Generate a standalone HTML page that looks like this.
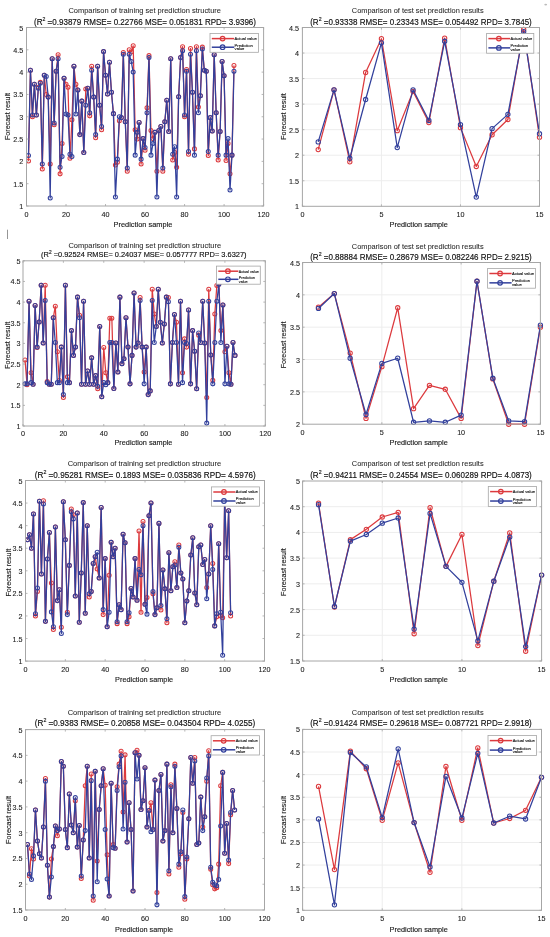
<!DOCTYPE html>
<html><head><meta charset="utf-8"><style>
html,body{margin:0;padding:0;background:#fff;}
body{width:550px;height:937px;overflow:hidden;}
svg{display:block;filter:blur(0.35px);}
svg text{font-family:"Liberation Sans",sans-serif;}
</style></head><body>
<svg width="550" height="937" viewBox="0 0 550 937">
<rect width="550" height="937" fill="#fff"/>
<g><path d="M28.48 160.93 L30.45 70.34 L32.43 116.75 L34.4 84.17 L36.38 114.97 L38.36 87.3 L40.33 82.39 L42.31 168.96 L44.28 75.25 L46.26 94.44 L48.23 97.12 L50.21 164.05 L52.19 58.74 L54.16 124.78 L56.14 71.23 L58.11 54.72 L60.09 173.87 L62.07 143.53 L64.04 78.37 L66.02 84.17 L67.99 87.3 L69.97 158.25 L71.94 119.87 L73.92 66.32 L75.9 84.17 L77.87 89.97 L79.85 134.6 L81.82 101.13 L83.8 152.45 L85.78 89.08 L87.75 88.19 L89.73 115.86 L91.7 66.32 L93.68 97.12 L95.65 137.72 L97.63 66.32 L99.61 105.15 L101.58 129.69 L103.56 51.6 L105.53 75.25 L107.51 93.99 L109.48 62.31 L111.46 92.21 L113.44 113.63 L115.41 164.94 L117.39 162.27 L119.36 120.77 L121.34 117.64 L123.32 52.49 L125.29 121.66 L127.27 171.19 L129.24 49.81 L131.22 52.04 L133.19 45.8 L135.17 129.69 L137.15 139.06 L139.12 122.55 L141.1 164.05 L143.07 138.62 L145.05 150.22 L147.03 107.82 L149 55.61 L150.98 130.58 L152.95 138.62 L154.93 132.37 L156.91 171.19 L158.88 130.58 L160.86 126.57 L162.83 171.19 L164.81 121.66 L166.78 100.24 L168.76 131.48 L170.74 58.74 L172.71 160.04 L174.69 152.45 L176.66 167.18 L178.64 96.67 L180.62 57.4 L182.59 46.69 L184.57 116.75 L186.54 69.45 L188.52 154.23 L190.49 48.47 L192.47 92.21 L194.45 148.88 L196.42 46.69 L198.4 106.93 L200.37 95.78 L202.35 47.14 L204.33 70.34 L206.3 71.23 L208.28 155.57 L210.25 117.64 L212.23 131.03 L214.2 54.72 L216.18 112.73 L218.16 160.04 L220.13 131.48 L222.11 61.41 L224.08 75.69 L226.06 160.48 L228.04 143.53 L230.01 173.87 L231.99 155.13 L233.96 65.43" fill="none" stroke="#dc3a3e" stroke-width="1.25" stroke-linejoin="round"/>
<g fill="none" stroke="#dc3a3e" stroke-width="1.05"><circle cx="28.48" cy="160.93" r="2.0"/><circle cx="30.45" cy="70.34" r="2.0"/><circle cx="32.43" cy="116.75" r="2.0"/><circle cx="34.4" cy="84.17" r="2.0"/><circle cx="36.38" cy="114.97" r="2.0"/><circle cx="38.36" cy="87.3" r="2.0"/><circle cx="40.33" cy="82.39" r="2.0"/><circle cx="42.31" cy="168.96" r="2.0"/><circle cx="44.28" cy="75.25" r="2.0"/><circle cx="46.26" cy="94.44" r="2.0"/><circle cx="48.23" cy="97.12" r="2.0"/><circle cx="50.21" cy="164.05" r="2.0"/><circle cx="52.19" cy="58.74" r="2.0"/><circle cx="54.16" cy="124.78" r="2.0"/><circle cx="56.14" cy="71.23" r="2.0"/><circle cx="58.11" cy="54.72" r="2.0"/><circle cx="60.09" cy="173.87" r="2.0"/><circle cx="62.07" cy="143.53" r="2.0"/><circle cx="64.04" cy="78.37" r="2.0"/><circle cx="66.02" cy="84.17" r="2.0"/><circle cx="67.99" cy="87.3" r="2.0"/><circle cx="69.97" cy="158.25" r="2.0"/><circle cx="71.94" cy="119.87" r="2.0"/><circle cx="73.92" cy="66.32" r="2.0"/><circle cx="75.9" cy="84.17" r="2.0"/><circle cx="77.87" cy="89.97" r="2.0"/><circle cx="79.85" cy="134.6" r="2.0"/><circle cx="81.82" cy="101.13" r="2.0"/><circle cx="83.8" cy="152.45" r="2.0"/><circle cx="85.78" cy="89.08" r="2.0"/><circle cx="87.75" cy="88.19" r="2.0"/><circle cx="89.73" cy="115.86" r="2.0"/><circle cx="91.7" cy="66.32" r="2.0"/><circle cx="93.68" cy="97.12" r="2.0"/><circle cx="95.65" cy="137.72" r="2.0"/><circle cx="97.63" cy="66.32" r="2.0"/><circle cx="99.61" cy="105.15" r="2.0"/><circle cx="101.58" cy="129.69" r="2.0"/><circle cx="103.56" cy="51.6" r="2.0"/><circle cx="105.53" cy="75.25" r="2.0"/><circle cx="107.51" cy="93.99" r="2.0"/><circle cx="109.48" cy="62.31" r="2.0"/><circle cx="111.46" cy="92.21" r="2.0"/><circle cx="113.44" cy="113.63" r="2.0"/><circle cx="115.41" cy="164.94" r="2.0"/><circle cx="117.39" cy="162.27" r="2.0"/><circle cx="119.36" cy="120.77" r="2.0"/><circle cx="121.34" cy="117.64" r="2.0"/><circle cx="123.32" cy="52.49" r="2.0"/><circle cx="125.29" cy="121.66" r="2.0"/><circle cx="127.27" cy="171.19" r="2.0"/><circle cx="129.24" cy="49.81" r="2.0"/><circle cx="131.22" cy="52.04" r="2.0"/><circle cx="133.19" cy="45.8" r="2.0"/><circle cx="135.17" cy="129.69" r="2.0"/><circle cx="137.15" cy="139.06" r="2.0"/><circle cx="139.12" cy="122.55" r="2.0"/><circle cx="141.1" cy="164.05" r="2.0"/><circle cx="143.07" cy="138.62" r="2.0"/><circle cx="145.05" cy="150.22" r="2.0"/><circle cx="147.03" cy="107.82" r="2.0"/><circle cx="149" cy="55.61" r="2.0"/><circle cx="150.98" cy="130.58" r="2.0"/><circle cx="152.95" cy="138.62" r="2.0"/><circle cx="154.93" cy="132.37" r="2.0"/><circle cx="156.91" cy="171.19" r="2.0"/><circle cx="158.88" cy="130.58" r="2.0"/><circle cx="160.86" cy="126.57" r="2.0"/><circle cx="162.83" cy="171.19" r="2.0"/><circle cx="164.81" cy="121.66" r="2.0"/><circle cx="166.78" cy="100.24" r="2.0"/><circle cx="168.76" cy="131.48" r="2.0"/><circle cx="170.74" cy="58.74" r="2.0"/><circle cx="172.71" cy="160.04" r="2.0"/><circle cx="174.69" cy="152.45" r="2.0"/><circle cx="176.66" cy="167.18" r="2.0"/><circle cx="178.64" cy="96.67" r="2.0"/><circle cx="180.62" cy="57.4" r="2.0"/><circle cx="182.59" cy="46.69" r="2.0"/><circle cx="184.57" cy="116.75" r="2.0"/><circle cx="186.54" cy="69.45" r="2.0"/><circle cx="188.52" cy="154.23" r="2.0"/><circle cx="190.49" cy="48.47" r="2.0"/><circle cx="192.47" cy="92.21" r="2.0"/><circle cx="194.45" cy="148.88" r="2.0"/><circle cx="196.42" cy="46.69" r="2.0"/><circle cx="198.4" cy="106.93" r="2.0"/><circle cx="200.37" cy="95.78" r="2.0"/><circle cx="202.35" cy="47.14" r="2.0"/><circle cx="204.33" cy="70.34" r="2.0"/><circle cx="206.3" cy="71.23" r="2.0"/><circle cx="208.28" cy="155.57" r="2.0"/><circle cx="210.25" cy="117.64" r="2.0"/><circle cx="212.23" cy="131.03" r="2.0"/><circle cx="214.2" cy="54.72" r="2.0"/><circle cx="216.18" cy="112.73" r="2.0"/><circle cx="218.16" cy="160.04" r="2.0"/><circle cx="220.13" cy="131.48" r="2.0"/><circle cx="222.11" cy="61.41" r="2.0"/><circle cx="224.08" cy="75.69" r="2.0"/><circle cx="226.06" cy="160.48" r="2.0"/><circle cx="228.04" cy="143.53" r="2.0"/><circle cx="230.01" cy="173.87" r="2.0"/><circle cx="231.99" cy="155.13" r="2.0"/><circle cx="233.96" cy="65.43" r="2.0"/></g>
<path d="M28.48 155.57 L30.45 70.34 L32.43 114.97 L34.4 84.17 L36.38 114.97 L38.36 88.19 L40.33 83.28 L42.31 164.05 L44.28 75.25 L46.26 76.59 L48.23 97.12 L50.21 197.97 L52.19 58.74 L54.16 123 L56.14 71.23 L58.11 58.74 L60.09 167.18 L62.07 156.47 L64.04 78.37 L66.02 114.07 L67.99 114.97 L69.97 154.23 L71.94 156.47 L73.92 66.32 L75.9 114.07 L77.87 89.97 L79.85 134.6 L81.82 101.13 L83.8 152.45 L85.78 105.15 L87.75 88.19 L89.73 112.73 L91.7 70.34 L93.68 97.12 L95.65 134.6 L97.63 66.32 L99.61 105.15 L101.58 126.57 L103.56 51.6 L105.53 75.25 L107.51 93.99 L109.48 62.31 L111.46 92.21 L113.44 113.63 L115.41 197.07 L117.39 159.14 L119.36 116.75 L121.34 117.64 L123.32 54.27 L125.29 121.66 L127.27 168.07 L129.24 54.27 L131.22 61.41 L133.19 72.12 L135.17 155.13 L137.15 132.37 L139.12 122.55 L141.1 159.14 L143.07 138.62 L145.05 147.54 L147.03 112.73 L149 57.4 L150.98 155.13 L152.95 143.53 L154.93 132.37 L156.91 197.07 L158.88 130.58 L160.86 126.57 L162.83 168.07 L164.81 121.66 L166.78 100.24 L168.76 131.48 L170.74 58.74 L172.71 154.23 L174.69 146.65 L176.66 197.07 L178.64 96.67 L180.62 57.4 L182.59 50.7 L184.57 114.97 L186.54 71.23 L188.52 151.56 L190.49 54.27 L192.47 92.21 L194.45 155.13 L196.42 50.7 L198.4 112.73 L200.37 95.78 L202.35 48.92 L204.33 70.34 L206.3 71.23 L208.28 151.56 L210.25 117.64 L212.23 131.03 L214.2 54.72 L216.18 112.73 L218.16 155.13 L220.13 131.48 L222.11 61.41 L224.08 75.69 L226.06 155.13 L228.04 138.62 L230.01 189.94 L231.99 155.13 L233.96 71.23" fill="none" stroke="#32409c" stroke-width="1.25" stroke-linejoin="round"/>
<g fill="none" stroke="#32409c" stroke-width="1.05"><circle cx="28.48" cy="155.57" r="2.0"/><circle cx="30.45" cy="70.34" r="2.0"/><circle cx="32.43" cy="114.97" r="2.0"/><circle cx="34.4" cy="84.17" r="2.0"/><circle cx="36.38" cy="114.97" r="2.0"/><circle cx="38.36" cy="88.19" r="2.0"/><circle cx="40.33" cy="83.28" r="2.0"/><circle cx="42.31" cy="164.05" r="2.0"/><circle cx="44.28" cy="75.25" r="2.0"/><circle cx="46.26" cy="76.59" r="2.0"/><circle cx="48.23" cy="97.12" r="2.0"/><circle cx="50.21" cy="197.97" r="2.0"/><circle cx="52.19" cy="58.74" r="2.0"/><circle cx="54.16" cy="123" r="2.0"/><circle cx="56.14" cy="71.23" r="2.0"/><circle cx="58.11" cy="58.74" r="2.0"/><circle cx="60.09" cy="167.18" r="2.0"/><circle cx="62.07" cy="156.47" r="2.0"/><circle cx="64.04" cy="78.37" r="2.0"/><circle cx="66.02" cy="114.07" r="2.0"/><circle cx="67.99" cy="114.97" r="2.0"/><circle cx="69.97" cy="154.23" r="2.0"/><circle cx="71.94" cy="156.47" r="2.0"/><circle cx="73.92" cy="66.32" r="2.0"/><circle cx="75.9" cy="114.07" r="2.0"/><circle cx="77.87" cy="89.97" r="2.0"/><circle cx="79.85" cy="134.6" r="2.0"/><circle cx="81.82" cy="101.13" r="2.0"/><circle cx="83.8" cy="152.45" r="2.0"/><circle cx="85.78" cy="105.15" r="2.0"/><circle cx="87.75" cy="88.19" r="2.0"/><circle cx="89.73" cy="112.73" r="2.0"/><circle cx="91.7" cy="70.34" r="2.0"/><circle cx="93.68" cy="97.12" r="2.0"/><circle cx="95.65" cy="134.6" r="2.0"/><circle cx="97.63" cy="66.32" r="2.0"/><circle cx="99.61" cy="105.15" r="2.0"/><circle cx="101.58" cy="126.57" r="2.0"/><circle cx="103.56" cy="51.6" r="2.0"/><circle cx="105.53" cy="75.25" r="2.0"/><circle cx="107.51" cy="93.99" r="2.0"/><circle cx="109.48" cy="62.31" r="2.0"/><circle cx="111.46" cy="92.21" r="2.0"/><circle cx="113.44" cy="113.63" r="2.0"/><circle cx="115.41" cy="197.07" r="2.0"/><circle cx="117.39" cy="159.14" r="2.0"/><circle cx="119.36" cy="116.75" r="2.0"/><circle cx="121.34" cy="117.64" r="2.0"/><circle cx="123.32" cy="54.27" r="2.0"/><circle cx="125.29" cy="121.66" r="2.0"/><circle cx="127.27" cy="168.07" r="2.0"/><circle cx="129.24" cy="54.27" r="2.0"/><circle cx="131.22" cy="61.41" r="2.0"/><circle cx="133.19" cy="72.12" r="2.0"/><circle cx="135.17" cy="155.13" r="2.0"/><circle cx="137.15" cy="132.37" r="2.0"/><circle cx="139.12" cy="122.55" r="2.0"/><circle cx="141.1" cy="159.14" r="2.0"/><circle cx="143.07" cy="138.62" r="2.0"/><circle cx="145.05" cy="147.54" r="2.0"/><circle cx="147.03" cy="112.73" r="2.0"/><circle cx="149" cy="57.4" r="2.0"/><circle cx="150.98" cy="155.13" r="2.0"/><circle cx="152.95" cy="143.53" r="2.0"/><circle cx="154.93" cy="132.37" r="2.0"/><circle cx="156.91" cy="197.07" r="2.0"/><circle cx="158.88" cy="130.58" r="2.0"/><circle cx="160.86" cy="126.57" r="2.0"/><circle cx="162.83" cy="168.07" r="2.0"/><circle cx="164.81" cy="121.66" r="2.0"/><circle cx="166.78" cy="100.24" r="2.0"/><circle cx="168.76" cy="131.48" r="2.0"/><circle cx="170.74" cy="58.74" r="2.0"/><circle cx="172.71" cy="154.23" r="2.0"/><circle cx="174.69" cy="146.65" r="2.0"/><circle cx="176.66" cy="197.07" r="2.0"/><circle cx="178.64" cy="96.67" r="2.0"/><circle cx="180.62" cy="57.4" r="2.0"/><circle cx="182.59" cy="50.7" r="2.0"/><circle cx="184.57" cy="114.97" r="2.0"/><circle cx="186.54" cy="71.23" r="2.0"/><circle cx="188.52" cy="151.56" r="2.0"/><circle cx="190.49" cy="54.27" r="2.0"/><circle cx="192.47" cy="92.21" r="2.0"/><circle cx="194.45" cy="155.13" r="2.0"/><circle cx="196.42" cy="50.7" r="2.0"/><circle cx="198.4" cy="112.73" r="2.0"/><circle cx="200.37" cy="95.78" r="2.0"/><circle cx="202.35" cy="48.92" r="2.0"/><circle cx="204.33" cy="70.34" r="2.0"/><circle cx="206.3" cy="71.23" r="2.0"/><circle cx="208.28" cy="151.56" r="2.0"/><circle cx="210.25" cy="117.64" r="2.0"/><circle cx="212.23" cy="131.03" r="2.0"/><circle cx="214.2" cy="54.72" r="2.0"/><circle cx="216.18" cy="112.73" r="2.0"/><circle cx="218.16" cy="155.13" r="2.0"/><circle cx="220.13" cy="131.48" r="2.0"/><circle cx="222.11" cy="61.41" r="2.0"/><circle cx="224.08" cy="75.69" r="2.0"/><circle cx="226.06" cy="155.13" r="2.0"/><circle cx="228.04" cy="138.62" r="2.0"/><circle cx="230.01" cy="189.94" r="2.0"/><circle cx="231.99" cy="155.13" r="2.0"/><circle cx="233.96" cy="71.23" r="2.0"/></g>
<rect x="26.5" y="27.5" width="237.1" height="178.5" fill="none" stroke="#a6a6a6" stroke-width="1"/>
<path d="M26.5 206v-2M26.5 27.5v2M66.02 206v-2M66.02 27.5v2M105.53 206v-2M105.53 27.5v2M145.05 206v-2M145.05 27.5v2M184.57 206v-2M184.57 27.5v2M224.08 206v-2M224.08 27.5v2M263.6 206v-2M263.6 27.5v2M26.5 206h2M263.6 206h-2M26.5 183.69h2M263.6 183.69h-2M26.5 161.38h2M263.6 161.38h-2M26.5 139.06h2M263.6 139.06h-2M26.5 116.75h2M263.6 116.75h-2M26.5 94.44h2M263.6 94.44h-2M26.5 72.12h2M263.6 72.12h-2M26.5 49.81h2M263.6 49.81h-2M26.5 27.5h2M263.6 27.5h-2" stroke="#a6a6a6" stroke-width="0.8" fill="none"/>
<text x="26.5" y="216.9" text-anchor="middle" font-size="7.2" fill="#1c1c1c" stroke="#1c1c1c" stroke-width="0.1">0</text>
<text x="66.02" y="216.9" text-anchor="middle" font-size="7.2" fill="#1c1c1c" stroke="#1c1c1c" stroke-width="0.1">20</text>
<text x="105.53" y="216.9" text-anchor="middle" font-size="7.2" fill="#1c1c1c" stroke="#1c1c1c" stroke-width="0.1">40</text>
<text x="145.05" y="216.9" text-anchor="middle" font-size="7.2" fill="#1c1c1c" stroke="#1c1c1c" stroke-width="0.1">60</text>
<text x="184.57" y="216.9" text-anchor="middle" font-size="7.2" fill="#1c1c1c" stroke="#1c1c1c" stroke-width="0.1">80</text>
<text x="224.08" y="216.9" text-anchor="middle" font-size="7.2" fill="#1c1c1c" stroke="#1c1c1c" stroke-width="0.1">100</text>
<text x="263.6" y="216.9" text-anchor="middle" font-size="7.2" fill="#1c1c1c" stroke="#1c1c1c" stroke-width="0.1">120</text>
<text x="23.3" y="209" text-anchor="end" font-size="7.2" fill="#1c1c1c" stroke="#1c1c1c" stroke-width="0.1">1</text>
<text x="23.3" y="186.69" text-anchor="end" font-size="7.2" fill="#1c1c1c" stroke="#1c1c1c" stroke-width="0.1">1.5</text>
<text x="23.3" y="164.38" text-anchor="end" font-size="7.2" fill="#1c1c1c" stroke="#1c1c1c" stroke-width="0.1">2</text>
<text x="23.3" y="142.06" text-anchor="end" font-size="7.2" fill="#1c1c1c" stroke="#1c1c1c" stroke-width="0.1">2.5</text>
<text x="23.3" y="119.75" text-anchor="end" font-size="7.2" fill="#1c1c1c" stroke="#1c1c1c" stroke-width="0.1">3</text>
<text x="23.3" y="97.44" text-anchor="end" font-size="7.2" fill="#1c1c1c" stroke="#1c1c1c" stroke-width="0.1">3.5</text>
<text x="23.3" y="75.12" text-anchor="end" font-size="7.2" fill="#1c1c1c" stroke="#1c1c1c" stroke-width="0.1">4</text>
<text x="23.3" y="52.81" text-anchor="end" font-size="7.2" fill="#1c1c1c" stroke="#1c1c1c" stroke-width="0.1">4.5</text>
<text x="23.3" y="30.5" text-anchor="end" font-size="7.2" fill="#1c1c1c" stroke="#1c1c1c" stroke-width="0.1">5</text>
<text x="113.6" y="226.8" font-size="7" fill="#1c1c1c" stroke="#1c1c1c" stroke-width="0.14" textLength="58.8" lengthAdjust="spacingAndGlyphs">Prediction sample</text>
<text transform="translate(10.3 140) rotate(-90)" x="0" y="0" font-size="7" fill="#1c1c1c" stroke="#1c1c1c" stroke-width="0.14" textLength="47" lengthAdjust="spacingAndGlyphs">Forecast result</text>
<text x="68.4" y="13" font-size="6.9" fill="#2a2a2a" stroke="#2a2a2a" stroke-width="0.06" textLength="152.6" lengthAdjust="spacingAndGlyphs">Comparison of training set prediction structure</text>
<text x="34" y="24.5" font-size="8.7" fill="#111" stroke="#111" stroke-width="0.16" textLength="222" lengthAdjust="spacingAndGlyphs">(R<tspan font-size="5.6" dy="-3.7">2</tspan><tspan dy="3.7"> =0.93879 RMSE= 0.22766 MSE= 0.051831 RPD= 3.9396)</tspan></text>
<rect x="210" y="33.5" width="48.4" height="18.8" fill="#fff" stroke="#a6a6a6" stroke-width="0.8"/>
<path d="M211.8 38.6H234.2" stroke="#dc3a3e" stroke-width="1.5"/><circle cx="222.58" cy="38.6" r="2.3" fill="none" stroke="#dc3a3e" stroke-width="1.2"/>
<path d="M211.8 47.22H234.2" stroke="#32409c" stroke-width="1.5"/><circle cx="222.58" cy="47.22" r="2.3" fill="none" stroke="#32409c" stroke-width="1.2"/>
<text x="234.6" y="40" font-size="4.4" fill="#111" stroke="#111" stroke-width="0.12" lengthAdjust="spacingAndGlyphs" textLength="22.2">Actual value</text>
<text x="234.6" y="46.72" font-size="4.4" fill="#111" stroke="#111" stroke-width="0.12" lengthAdjust="spacingAndGlyphs" textLength="18.2">Prediction</text>
<text x="234.6" y="50.42" font-size="4.4" fill="#111" stroke="#111" stroke-width="0.12" lengthAdjust="spacingAndGlyphs" textLength="9.77">value</text></g>
<g><line x1="302.4" y1="180.76" x2="539.5" y2="180.76" stroke="#ededed" stroke-width="1"/>
<line x1="302.4" y1="155.21" x2="539.5" y2="155.21" stroke="#ededed" stroke-width="1"/>
<line x1="302.4" y1="129.67" x2="539.5" y2="129.67" stroke="#ededed" stroke-width="1"/>
<line x1="302.4" y1="104.13" x2="539.5" y2="104.13" stroke="#ededed" stroke-width="1"/>
<line x1="302.4" y1="78.59" x2="539.5" y2="78.59" stroke="#ededed" stroke-width="1"/>
<line x1="302.4" y1="53.04" x2="539.5" y2="53.04" stroke="#ededed" stroke-width="1"/>
<line x1="381.43" y1="27.5" x2="381.43" y2="206.3" stroke="#ededed" stroke-width="1"/>
<line x1="460.47" y1="27.5" x2="460.47" y2="206.3" stroke="#ededed" stroke-width="1"/>
<path d="M318.21 149.59 L334.01 89.82 L349.82 161.86 L365.63 72.46 L381.43 38.74 L397.24 130.69 L413.05 91.36 L428.85 122.52 L444.66 38.23 L460.47 127.63 L476.27 166.45 L492.08 134.78 L507.89 119.45 L523.69 29.54 L539.5 137.33" fill="none" stroke="#dc3a3e" stroke-width="1.25" stroke-linejoin="round"/>
<g fill="none" stroke="#dc3a3e" stroke-width="1.05"><circle cx="318.21" cy="149.59" r="2.15"/><circle cx="334.01" cy="89.82" r="2.15"/><circle cx="349.82" cy="161.86" r="2.15"/><circle cx="365.63" cy="72.46" r="2.15"/><circle cx="381.43" cy="38.74" r="2.15"/><circle cx="397.24" cy="130.69" r="2.15"/><circle cx="413.05" cy="91.36" r="2.15"/><circle cx="428.85" cy="122.52" r="2.15"/><circle cx="444.66" cy="38.23" r="2.15"/><circle cx="460.47" cy="127.63" r="2.15"/><circle cx="476.27" cy="166.45" r="2.15"/><circle cx="492.08" cy="134.78" r="2.15"/><circle cx="507.89" cy="119.45" r="2.15"/><circle cx="523.69" cy="29.54" r="2.15"/><circle cx="539.5" cy="137.33" r="2.15"/></g>
<path d="M318.21 141.93 L334.01 89.82 L349.82 158.28 L365.63 99.53 L381.43 42.83 L397.24 147.55 L413.05 89.82 L428.85 120.48 L444.66 41.29 L460.47 124.56 L476.27 197.1 L492.08 128.65 L507.89 114.35 L523.69 31.59 L539.5 133.76" fill="none" stroke="#32409c" stroke-width="1.25" stroke-linejoin="round"/>
<g fill="none" stroke="#32409c" stroke-width="1.05"><circle cx="318.21" cy="141.93" r="2.15"/><circle cx="334.01" cy="89.82" r="2.15"/><circle cx="349.82" cy="158.28" r="2.15"/><circle cx="365.63" cy="99.53" r="2.15"/><circle cx="381.43" cy="42.83" r="2.15"/><circle cx="397.24" cy="147.55" r="2.15"/><circle cx="413.05" cy="89.82" r="2.15"/><circle cx="428.85" cy="120.48" r="2.15"/><circle cx="444.66" cy="41.29" r="2.15"/><circle cx="460.47" cy="124.56" r="2.15"/><circle cx="476.27" cy="197.1" r="2.15"/><circle cx="492.08" cy="128.65" r="2.15"/><circle cx="507.89" cy="114.35" r="2.15"/><circle cx="523.69" cy="31.59" r="2.15"/><circle cx="539.5" cy="133.76" r="2.15"/></g>
<rect x="302.4" y="27.5" width="237.1" height="178.8" fill="none" stroke="#a6a6a6" stroke-width="1"/>
<path d="M302.4 206.3v-2M302.4 27.5v2M381.43 206.3v-2M381.43 27.5v2M460.47 206.3v-2M460.47 27.5v2M539.5 206.3v-2M539.5 27.5v2M302.4 206.3h2M539.5 206.3h-2M302.4 180.76h2M539.5 180.76h-2M302.4 155.21h2M539.5 155.21h-2M302.4 129.67h2M539.5 129.67h-2M302.4 104.13h2M539.5 104.13h-2M302.4 78.59h2M539.5 78.59h-2M302.4 53.04h2M539.5 53.04h-2M302.4 27.5h2M539.5 27.5h-2" stroke="#a6a6a6" stroke-width="0.8" fill="none"/>
<text x="302.4" y="217" text-anchor="middle" font-size="7.2" fill="#1c1c1c" stroke="#1c1c1c" stroke-width="0.1">0</text>
<text x="381.43" y="217" text-anchor="middle" font-size="7.2" fill="#1c1c1c" stroke="#1c1c1c" stroke-width="0.1">5</text>
<text x="460.47" y="217" text-anchor="middle" font-size="7.2" fill="#1c1c1c" stroke="#1c1c1c" stroke-width="0.1">10</text>
<text x="539.5" y="217" text-anchor="middle" font-size="7.2" fill="#1c1c1c" stroke="#1c1c1c" stroke-width="0.1">15</text>
<text x="299.1" y="209.3" text-anchor="end" font-size="7.2" fill="#1c1c1c" stroke="#1c1c1c" stroke-width="0.1">1</text>
<text x="299.1" y="183.76" text-anchor="end" font-size="7.2" fill="#1c1c1c" stroke="#1c1c1c" stroke-width="0.1">1.5</text>
<text x="299.1" y="158.21" text-anchor="end" font-size="7.2" fill="#1c1c1c" stroke="#1c1c1c" stroke-width="0.1">2</text>
<text x="299.1" y="132.67" text-anchor="end" font-size="7.2" fill="#1c1c1c" stroke="#1c1c1c" stroke-width="0.1">2.5</text>
<text x="299.1" y="107.13" text-anchor="end" font-size="7.2" fill="#1c1c1c" stroke="#1c1c1c" stroke-width="0.1">3</text>
<text x="299.1" y="81.59" text-anchor="end" font-size="7.2" fill="#1c1c1c" stroke="#1c1c1c" stroke-width="0.1">3.5</text>
<text x="299.1" y="56.04" text-anchor="end" font-size="7.2" fill="#1c1c1c" stroke="#1c1c1c" stroke-width="0.1">4</text>
<text x="299.1" y="30.5" text-anchor="end" font-size="7.2" fill="#1c1c1c" stroke="#1c1c1c" stroke-width="0.1">4.5</text>
<text x="389.6" y="227.2" font-size="7" fill="#1c1c1c" stroke="#1c1c1c" stroke-width="0.14" textLength="58.2" lengthAdjust="spacingAndGlyphs">Prediction sample</text>
<text transform="translate(286.2 139.7) rotate(-90)" x="0" y="0" font-size="7" fill="#1c1c1c" stroke="#1c1c1c" stroke-width="0.14" textLength="46.3" lengthAdjust="spacingAndGlyphs">Forecast result</text>
<text x="351.8" y="13" font-size="6.9" fill="#2a2a2a" stroke="#2a2a2a" stroke-width="0.06" textLength="131.8" lengthAdjust="spacingAndGlyphs">Comparison of test set prediction results</text>
<text x="310.2" y="24.5" font-size="8.68" fill="#111" stroke="#111" stroke-width="0.16" textLength="221.6" lengthAdjust="spacingAndGlyphs">(R<tspan font-size="5.59" dy="-3.69">2</tspan><tspan dy="3.69"> =0.93338 RMSE= 0.23343 MSE= 0.054492 RPD= 3.7845)</tspan></text>
<rect x="486.6" y="33.5" width="47.2" height="19.7" fill="#fff" stroke="#a6a6a6" stroke-width="0.8"/>
<path d="M488.4 38.6H510.2" stroke="#dc3a3e" stroke-width="1.5"/><circle cx="498.87" cy="38.6" r="2.3" fill="none" stroke="#dc3a3e" stroke-width="1.2"/>
<path d="M488.4 47.88H510.2" stroke="#32409c" stroke-width="1.5"/><circle cx="498.87" cy="47.88" r="2.3" fill="none" stroke="#32409c" stroke-width="1.2"/>
<text x="510.6" y="40" font-size="4.4" fill="#111" stroke="#111" stroke-width="0.12" lengthAdjust="spacingAndGlyphs" textLength="21.6">Actual value</text>
<text x="510.6" y="47.38" font-size="4.4" fill="#111" stroke="#111" stroke-width="0.12" lengthAdjust="spacingAndGlyphs" textLength="17.71">Prediction</text>
<text x="510.6" y="51.08" font-size="4.4" fill="#111" stroke="#111" stroke-width="0.12" lengthAdjust="spacingAndGlyphs" textLength="9.5">value</text></g>
<g><path d="M25.02 359.92 L27.04 384.7 L29.06 301.27 L31.08 372.72 L33.1 384.29 L35.12 305.4 L37.13 347.53 L39.15 321.92 L41.17 285.17 L43.19 342.99 L45.21 285.17 L47.23 381.4 L49.25 384.29 L51.27 384.29 L53.29 317.79 L55.31 306.23 L57.33 351.66 L59.34 380.57 L61.36 347.12 L63.38 397.5 L65.4 285.17 L67.42 376.85 L69.44 382.63 L71.46 330.6 L73.48 355.38 L75.5 347.12 L77.52 297.14 L79.54 315.32 L81.56 384.29 L83.58 301.27 L85.59 384.29 L87.61 371.07 L89.63 384.29 L91.65 357.86 L93.67 384.29 L95.69 375.61 L97.71 388.83 L99.73 326.47 L101.75 396.68 L103.77 347.53 L105.79 372.72 L107.8 382.63 L109.82 318.21 L111.84 318.21 L113.86 388.42 L115.88 342.99 L117.9 371.9 L119.92 297.14 L121.94 363.64 L123.96 358.68 L125.98 317.79 L128 347.12 L130.02 383.87 L132.04 355.38 L134.05 293.01 L136.07 347.12 L138.09 342.99 L140.11 297.56 L142.13 347.12 L144.15 371.9 L146.17 347.12 L148.19 394.61 L150.21 390.89 L152.23 289.3 L154.25 314.08 L156.27 326.47 L158.28 289.3 L160.3 322.34 L162.32 342.99 L164.34 323.99 L166.36 297.14 L168.38 297.56 L170.4 383.87 L172.42 342.57 L174.44 314.49 L176.46 322.34 L178.48 384.29 L180.5 301.27 L182.51 372.72 L184.53 338.86 L186.55 347.12 L188.57 309.95 L190.59 383.87 L192.61 330.6 L194.63 351.25 L196.65 388.83 L198.67 335.14 L200.69 342.57 L202.71 301.27 L204.73 342.99 L206.74 397.5 L208.76 289.3 L210.78 354.96 L212.8 380.16 L214.82 314.08 L216.84 285.58 L218.86 284.34 L220.88 330.6 L222.9 304.99 L224.92 351.66 L226.94 346.29 L228.96 372.72 L230.97 384.29 L232.99 342.57 L235.01 355.38" fill="none" stroke="#dc3a3e" stroke-width="1.25" stroke-linejoin="round"/>
<g fill="none" stroke="#dc3a3e" stroke-width="1.05"><circle cx="25.02" cy="359.92" r="2.0"/><circle cx="27.04" cy="384.7" r="2.0"/><circle cx="29.06" cy="301.27" r="2.0"/><circle cx="31.08" cy="372.72" r="2.0"/><circle cx="33.1" cy="384.29" r="2.0"/><circle cx="35.12" cy="305.4" r="2.0"/><circle cx="37.13" cy="347.53" r="2.0"/><circle cx="39.15" cy="321.92" r="2.0"/><circle cx="41.17" cy="285.17" r="2.0"/><circle cx="43.19" cy="342.99" r="2.0"/><circle cx="45.21" cy="285.17" r="2.0"/><circle cx="47.23" cy="381.4" r="2.0"/><circle cx="49.25" cy="384.29" r="2.0"/><circle cx="51.27" cy="384.29" r="2.0"/><circle cx="53.29" cy="317.79" r="2.0"/><circle cx="55.31" cy="306.23" r="2.0"/><circle cx="57.33" cy="351.66" r="2.0"/><circle cx="59.34" cy="380.57" r="2.0"/><circle cx="61.36" cy="347.12" r="2.0"/><circle cx="63.38" cy="397.5" r="2.0"/><circle cx="65.4" cy="285.17" r="2.0"/><circle cx="67.42" cy="376.85" r="2.0"/><circle cx="69.44" cy="382.63" r="2.0"/><circle cx="71.46" cy="330.6" r="2.0"/><circle cx="73.48" cy="355.38" r="2.0"/><circle cx="75.5" cy="347.12" r="2.0"/><circle cx="77.52" cy="297.14" r="2.0"/><circle cx="79.54" cy="315.32" r="2.0"/><circle cx="81.56" cy="384.29" r="2.0"/><circle cx="83.58" cy="301.27" r="2.0"/><circle cx="85.59" cy="384.29" r="2.0"/><circle cx="87.61" cy="371.07" r="2.0"/><circle cx="89.63" cy="384.29" r="2.0"/><circle cx="91.65" cy="357.86" r="2.0"/><circle cx="93.67" cy="384.29" r="2.0"/><circle cx="95.69" cy="375.61" r="2.0"/><circle cx="97.71" cy="388.83" r="2.0"/><circle cx="99.73" cy="326.47" r="2.0"/><circle cx="101.75" cy="396.68" r="2.0"/><circle cx="103.77" cy="347.53" r="2.0"/><circle cx="105.79" cy="372.72" r="2.0"/><circle cx="107.8" cy="382.63" r="2.0"/><circle cx="109.82" cy="318.21" r="2.0"/><circle cx="111.84" cy="318.21" r="2.0"/><circle cx="113.86" cy="388.42" r="2.0"/><circle cx="115.88" cy="342.99" r="2.0"/><circle cx="117.9" cy="371.9" r="2.0"/><circle cx="119.92" cy="297.14" r="2.0"/><circle cx="121.94" cy="363.64" r="2.0"/><circle cx="123.96" cy="358.68" r="2.0"/><circle cx="125.98" cy="317.79" r="2.0"/><circle cx="128" cy="347.12" r="2.0"/><circle cx="130.02" cy="383.87" r="2.0"/><circle cx="132.04" cy="355.38" r="2.0"/><circle cx="134.05" cy="293.01" r="2.0"/><circle cx="136.07" cy="347.12" r="2.0"/><circle cx="138.09" cy="342.99" r="2.0"/><circle cx="140.11" cy="297.56" r="2.0"/><circle cx="142.13" cy="347.12" r="2.0"/><circle cx="144.15" cy="371.9" r="2.0"/><circle cx="146.17" cy="347.12" r="2.0"/><circle cx="148.19" cy="394.61" r="2.0"/><circle cx="150.21" cy="390.89" r="2.0"/><circle cx="152.23" cy="289.3" r="2.0"/><circle cx="154.25" cy="314.08" r="2.0"/><circle cx="156.27" cy="326.47" r="2.0"/><circle cx="158.28" cy="289.3" r="2.0"/><circle cx="160.3" cy="322.34" r="2.0"/><circle cx="162.32" cy="342.99" r="2.0"/><circle cx="164.34" cy="323.99" r="2.0"/><circle cx="166.36" cy="297.14" r="2.0"/><circle cx="168.38" cy="297.56" r="2.0"/><circle cx="170.4" cy="383.87" r="2.0"/><circle cx="172.42" cy="342.57" r="2.0"/><circle cx="174.44" cy="314.49" r="2.0"/><circle cx="176.46" cy="322.34" r="2.0"/><circle cx="178.48" cy="384.29" r="2.0"/><circle cx="180.5" cy="301.27" r="2.0"/><circle cx="182.51" cy="372.72" r="2.0"/><circle cx="184.53" cy="338.86" r="2.0"/><circle cx="186.55" cy="347.12" r="2.0"/><circle cx="188.57" cy="309.95" r="2.0"/><circle cx="190.59" cy="383.87" r="2.0"/><circle cx="192.61" cy="330.6" r="2.0"/><circle cx="194.63" cy="351.25" r="2.0"/><circle cx="196.65" cy="388.83" r="2.0"/><circle cx="198.67" cy="335.14" r="2.0"/><circle cx="200.69" cy="342.57" r="2.0"/><circle cx="202.71" cy="301.27" r="2.0"/><circle cx="204.73" cy="342.99" r="2.0"/><circle cx="206.74" cy="397.5" r="2.0"/><circle cx="208.76" cy="289.3" r="2.0"/><circle cx="210.78" cy="354.96" r="2.0"/><circle cx="212.8" cy="380.16" r="2.0"/><circle cx="214.82" cy="314.08" r="2.0"/><circle cx="216.84" cy="285.58" r="2.0"/><circle cx="218.86" cy="284.34" r="2.0"/><circle cx="220.88" cy="330.6" r="2.0"/><circle cx="222.9" cy="304.99" r="2.0"/><circle cx="224.92" cy="351.66" r="2.0"/><circle cx="226.94" cy="346.29" r="2.0"/><circle cx="228.96" cy="372.72" r="2.0"/><circle cx="230.97" cy="384.29" r="2.0"/><circle cx="232.99" cy="342.57" r="2.0"/><circle cx="235.01" cy="355.38" r="2.0"/></g>
<path d="M25.02 383.87 L27.04 383.87 L29.06 301.27 L31.08 382.63 L33.1 384.29 L35.12 305.4 L37.13 347.12 L39.15 321.92 L41.17 285.17 L43.19 342.99 L45.21 300.45 L47.23 382.63 L49.25 384.29 L51.27 384.29 L53.29 317.79 L55.31 342.57 L57.33 382.63 L59.34 382.63 L61.36 347.12 L63.38 394.61 L65.4 285.17 L67.42 382.63 L69.44 382.63 L71.46 330.6 L73.48 355.38 L75.5 347.12 L77.52 297.14 L79.54 317.79 L81.56 384.29 L83.58 301.27 L85.59 384.29 L87.61 371.07 L89.63 384.29 L91.65 357.86 L93.67 384.29 L95.69 375.61 L97.71 386.35 L99.73 326.47 L101.75 396.68 L103.77 382.63 L105.79 384.7 L107.8 382.63 L109.82 342.57 L111.84 342.57 L113.86 388.42 L115.88 342.99 L117.9 371.9 L119.92 297.14 L121.94 363.64 L123.96 358.68 L125.98 317.79 L128 347.12 L130.02 383.87 L132.04 355.38 L134.05 293.01 L136.07 347.12 L138.09 342.99 L140.11 300.45 L142.13 347.12 L144.15 383.87 L146.17 347.12 L148.19 394.61 L150.21 390.89 L152.23 300.45 L154.25 342.57 L156.27 326.47 L158.28 289.3 L160.3 322.34 L162.32 342.99 L164.34 323.99 L166.36 297.14 L168.38 301.69 L170.4 383.87 L172.42 342.57 L174.44 314.49 L176.46 342.57 L178.48 384.29 L180.5 301.27 L182.51 382.63 L184.53 342.57 L186.55 343.4 L188.57 309.95 L190.59 383.87 L192.61 330.6 L194.63 351.25 L196.65 388.83 L198.67 333.07 L200.69 342.57 L202.71 301.27 L204.73 342.99 L206.74 423.11 L208.76 301.27 L210.78 354.96 L212.8 383.87 L214.82 342.57 L216.84 301.27 L218.86 284.34 L220.88 342.57 L222.9 304.99 L224.92 383.87 L226.94 346.29 L228.96 383.87 L230.97 384.29 L232.99 342.57 L235.01 355.38" fill="none" stroke="#32409c" stroke-width="1.25" stroke-linejoin="round"/>
<g fill="none" stroke="#32409c" stroke-width="1.05"><circle cx="25.02" cy="383.87" r="2.0"/><circle cx="27.04" cy="383.87" r="2.0"/><circle cx="29.06" cy="301.27" r="2.0"/><circle cx="31.08" cy="382.63" r="2.0"/><circle cx="33.1" cy="384.29" r="2.0"/><circle cx="35.12" cy="305.4" r="2.0"/><circle cx="37.13" cy="347.12" r="2.0"/><circle cx="39.15" cy="321.92" r="2.0"/><circle cx="41.17" cy="285.17" r="2.0"/><circle cx="43.19" cy="342.99" r="2.0"/><circle cx="45.21" cy="300.45" r="2.0"/><circle cx="47.23" cy="382.63" r="2.0"/><circle cx="49.25" cy="384.29" r="2.0"/><circle cx="51.27" cy="384.29" r="2.0"/><circle cx="53.29" cy="317.79" r="2.0"/><circle cx="55.31" cy="342.57" r="2.0"/><circle cx="57.33" cy="382.63" r="2.0"/><circle cx="59.34" cy="382.63" r="2.0"/><circle cx="61.36" cy="347.12" r="2.0"/><circle cx="63.38" cy="394.61" r="2.0"/><circle cx="65.4" cy="285.17" r="2.0"/><circle cx="67.42" cy="382.63" r="2.0"/><circle cx="69.44" cy="382.63" r="2.0"/><circle cx="71.46" cy="330.6" r="2.0"/><circle cx="73.48" cy="355.38" r="2.0"/><circle cx="75.5" cy="347.12" r="2.0"/><circle cx="77.52" cy="297.14" r="2.0"/><circle cx="79.54" cy="317.79" r="2.0"/><circle cx="81.56" cy="384.29" r="2.0"/><circle cx="83.58" cy="301.27" r="2.0"/><circle cx="85.59" cy="384.29" r="2.0"/><circle cx="87.61" cy="371.07" r="2.0"/><circle cx="89.63" cy="384.29" r="2.0"/><circle cx="91.65" cy="357.86" r="2.0"/><circle cx="93.67" cy="384.29" r="2.0"/><circle cx="95.69" cy="375.61" r="2.0"/><circle cx="97.71" cy="386.35" r="2.0"/><circle cx="99.73" cy="326.47" r="2.0"/><circle cx="101.75" cy="396.68" r="2.0"/><circle cx="103.77" cy="382.63" r="2.0"/><circle cx="105.79" cy="384.7" r="2.0"/><circle cx="107.8" cy="382.63" r="2.0"/><circle cx="109.82" cy="342.57" r="2.0"/><circle cx="111.84" cy="342.57" r="2.0"/><circle cx="113.86" cy="388.42" r="2.0"/><circle cx="115.88" cy="342.99" r="2.0"/><circle cx="117.9" cy="371.9" r="2.0"/><circle cx="119.92" cy="297.14" r="2.0"/><circle cx="121.94" cy="363.64" r="2.0"/><circle cx="123.96" cy="358.68" r="2.0"/><circle cx="125.98" cy="317.79" r="2.0"/><circle cx="128" cy="347.12" r="2.0"/><circle cx="130.02" cy="383.87" r="2.0"/><circle cx="132.04" cy="355.38" r="2.0"/><circle cx="134.05" cy="293.01" r="2.0"/><circle cx="136.07" cy="347.12" r="2.0"/><circle cx="138.09" cy="342.99" r="2.0"/><circle cx="140.11" cy="300.45" r="2.0"/><circle cx="142.13" cy="347.12" r="2.0"/><circle cx="144.15" cy="383.87" r="2.0"/><circle cx="146.17" cy="347.12" r="2.0"/><circle cx="148.19" cy="394.61" r="2.0"/><circle cx="150.21" cy="390.89" r="2.0"/><circle cx="152.23" cy="300.45" r="2.0"/><circle cx="154.25" cy="342.57" r="2.0"/><circle cx="156.27" cy="326.47" r="2.0"/><circle cx="158.28" cy="289.3" r="2.0"/><circle cx="160.3" cy="322.34" r="2.0"/><circle cx="162.32" cy="342.99" r="2.0"/><circle cx="164.34" cy="323.99" r="2.0"/><circle cx="166.36" cy="297.14" r="2.0"/><circle cx="168.38" cy="301.69" r="2.0"/><circle cx="170.4" cy="383.87" r="2.0"/><circle cx="172.42" cy="342.57" r="2.0"/><circle cx="174.44" cy="314.49" r="2.0"/><circle cx="176.46" cy="342.57" r="2.0"/><circle cx="178.48" cy="384.29" r="2.0"/><circle cx="180.5" cy="301.27" r="2.0"/><circle cx="182.51" cy="382.63" r="2.0"/><circle cx="184.53" cy="342.57" r="2.0"/><circle cx="186.55" cy="343.4" r="2.0"/><circle cx="188.57" cy="309.95" r="2.0"/><circle cx="190.59" cy="383.87" r="2.0"/><circle cx="192.61" cy="330.6" r="2.0"/><circle cx="194.63" cy="351.25" r="2.0"/><circle cx="196.65" cy="388.83" r="2.0"/><circle cx="198.67" cy="333.07" r="2.0"/><circle cx="200.69" cy="342.57" r="2.0"/><circle cx="202.71" cy="301.27" r="2.0"/><circle cx="204.73" cy="342.99" r="2.0"/><circle cx="206.74" cy="423.11" r="2.0"/><circle cx="208.76" cy="301.27" r="2.0"/><circle cx="210.78" cy="354.96" r="2.0"/><circle cx="212.8" cy="383.87" r="2.0"/><circle cx="214.82" cy="342.57" r="2.0"/><circle cx="216.84" cy="301.27" r="2.0"/><circle cx="218.86" cy="284.34" r="2.0"/><circle cx="220.88" cy="342.57" r="2.0"/><circle cx="222.9" cy="304.99" r="2.0"/><circle cx="224.92" cy="383.87" r="2.0"/><circle cx="226.94" cy="346.29" r="2.0"/><circle cx="228.96" cy="383.87" r="2.0"/><circle cx="230.97" cy="384.29" r="2.0"/><circle cx="232.99" cy="342.57" r="2.0"/><circle cx="235.01" cy="355.38" r="2.0"/></g>
<rect x="23" y="260.8" width="242.3" height="165.2" fill="none" stroke="#a6a6a6" stroke-width="1"/>
<path d="M23 426v-2M23 260.8v2M63.38 426v-2M63.38 260.8v2M103.77 426v-2M103.77 260.8v2M144.15 426v-2M144.15 260.8v2M184.53 426v-2M184.53 260.8v2M224.92 426v-2M224.92 260.8v2M265.3 426v-2M265.3 260.8v2M23 426h2M265.3 426h-2M23 405.35h2M265.3 405.35h-2M23 384.7h2M265.3 384.7h-2M23 364.05h2M265.3 364.05h-2M23 343.4h2M265.3 343.4h-2M23 322.75h2M265.3 322.75h-2M23 302.1h2M265.3 302.1h-2M23 281.45h2M265.3 281.45h-2M23 260.8h2M265.3 260.8h-2" stroke="#a6a6a6" stroke-width="0.8" fill="none"/>
<text x="23" y="436.2" text-anchor="middle" font-size="7.2" fill="#1c1c1c" stroke="#1c1c1c" stroke-width="0.1">0</text>
<text x="63.38" y="436.2" text-anchor="middle" font-size="7.2" fill="#1c1c1c" stroke="#1c1c1c" stroke-width="0.1">20</text>
<text x="103.77" y="436.2" text-anchor="middle" font-size="7.2" fill="#1c1c1c" stroke="#1c1c1c" stroke-width="0.1">40</text>
<text x="144.15" y="436.2" text-anchor="middle" font-size="7.2" fill="#1c1c1c" stroke="#1c1c1c" stroke-width="0.1">60</text>
<text x="184.53" y="436.2" text-anchor="middle" font-size="7.2" fill="#1c1c1c" stroke="#1c1c1c" stroke-width="0.1">80</text>
<text x="224.92" y="436.2" text-anchor="middle" font-size="7.2" fill="#1c1c1c" stroke="#1c1c1c" stroke-width="0.1">100</text>
<text x="265.3" y="436.2" text-anchor="middle" font-size="7.2" fill="#1c1c1c" stroke="#1c1c1c" stroke-width="0.1">120</text>
<text x="20.5" y="429" text-anchor="end" font-size="7.2" fill="#1c1c1c" stroke="#1c1c1c" stroke-width="0.1">1</text>
<text x="20.5" y="408.35" text-anchor="end" font-size="7.2" fill="#1c1c1c" stroke="#1c1c1c" stroke-width="0.1">1.5</text>
<text x="20.5" y="387.7" text-anchor="end" font-size="7.2" fill="#1c1c1c" stroke="#1c1c1c" stroke-width="0.1">2</text>
<text x="20.5" y="367.05" text-anchor="end" font-size="7.2" fill="#1c1c1c" stroke="#1c1c1c" stroke-width="0.1">2.5</text>
<text x="20.5" y="346.4" text-anchor="end" font-size="7.2" fill="#1c1c1c" stroke="#1c1c1c" stroke-width="0.1">3</text>
<text x="20.5" y="325.75" text-anchor="end" font-size="7.2" fill="#1c1c1c" stroke="#1c1c1c" stroke-width="0.1">3.5</text>
<text x="20.5" y="305.1" text-anchor="end" font-size="7.2" fill="#1c1c1c" stroke="#1c1c1c" stroke-width="0.1">4</text>
<text x="20.5" y="284.45" text-anchor="end" font-size="7.2" fill="#1c1c1c" stroke="#1c1c1c" stroke-width="0.1">4.5</text>
<text x="20.5" y="263.8" text-anchor="end" font-size="7.2" fill="#1c1c1c" stroke="#1c1c1c" stroke-width="0.1">5</text>
<text x="114.5" y="445.3" font-size="7" fill="#1c1c1c" stroke="#1c1c1c" stroke-width="0.14" textLength="57.9" lengthAdjust="spacingAndGlyphs">Prediction sample</text>
<text transform="translate(10.4 368.8) rotate(-90)" x="0" y="0" font-size="7" fill="#1c1c1c" stroke="#1c1c1c" stroke-width="0.14" textLength="46.9" lengthAdjust="spacingAndGlyphs">Forecast result</text>
<text x="68.4" y="248.2" font-size="6.9" fill="#2a2a2a" stroke="#2a2a2a" stroke-width="0.06" textLength="152.7" lengthAdjust="spacingAndGlyphs">Comparison of training set prediction structure</text>
<text x="41.1" y="257.3" font-size="8.05" fill="#111" stroke="#111" stroke-width="0.16" textLength="205.4" lengthAdjust="spacingAndGlyphs">(R<tspan font-size="5.18" dy="-3.42">2</tspan><tspan dy="3.42"> =0.92524 RMSE= 0.24037 MSE= 0.057777 RPD= 3.6327)</tspan></text>
<rect x="216.5" y="266.1" width="43.8" height="18.1" fill="#fff" stroke="#a6a6a6" stroke-width="0.8"/>
<path d="M218.3 271.2H238.4" stroke="#dc3a3e" stroke-width="1.5"/><circle cx="227.89" cy="271.2" r="2.3" fill="none" stroke="#dc3a3e" stroke-width="1.2"/>
<path d="M218.3 279.31H238.4" stroke="#32409c" stroke-width="1.5"/><circle cx="227.89" cy="279.31" r="2.3" fill="none" stroke="#32409c" stroke-width="1.2"/>
<text x="238.8" y="272.6" font-size="4.4" fill="#111" stroke="#111" stroke-width="0.12" lengthAdjust="spacingAndGlyphs" textLength="19.9">Actual value</text>
<text x="238.8" y="278.81" font-size="4.4" fill="#111" stroke="#111" stroke-width="0.12" lengthAdjust="spacingAndGlyphs" textLength="16.32">Prediction</text>
<text x="238.8" y="282.51" font-size="4.4" fill="#111" stroke="#111" stroke-width="0.12" lengthAdjust="spacingAndGlyphs" textLength="8.76">value</text></g>
<g><line x1="302.6" y1="391.86" x2="540.4" y2="391.86" stroke="#ededed" stroke-width="1"/>
<line x1="302.6" y1="359.52" x2="540.4" y2="359.52" stroke="#ededed" stroke-width="1"/>
<line x1="302.6" y1="327.18" x2="540.4" y2="327.18" stroke="#ededed" stroke-width="1"/>
<line x1="302.6" y1="294.84" x2="540.4" y2="294.84" stroke="#ededed" stroke-width="1"/>
<line x1="381.87" y1="262.5" x2="381.87" y2="424.2" stroke="#ededed" stroke-width="1"/>
<line x1="461.13" y1="262.5" x2="461.13" y2="424.2" stroke="#ededed" stroke-width="1"/>
<path d="M318.45 307.13 L334.31 293.55 L350.16 353.05 L366.01 418.38 L381.87 366.63 L397.72 307.78 L413.57 408.68 L429.43 385.39 L445.28 389.27 L461.13 418.38 L476.99 281.26 L492.84 378.92 L508.69 424.2 L524.55 424.2 L540.4 327.18" fill="none" stroke="#dc3a3e" stroke-width="1.25" stroke-linejoin="round"/>
<g fill="none" stroke="#dc3a3e" stroke-width="1.05"><circle cx="318.45" cy="307.13" r="2.15"/><circle cx="334.31" cy="293.55" r="2.15"/><circle cx="350.16" cy="353.05" r="2.15"/><circle cx="366.01" cy="418.38" r="2.15"/><circle cx="381.87" cy="366.63" r="2.15"/><circle cx="397.72" cy="307.78" r="2.15"/><circle cx="413.57" cy="408.68" r="2.15"/><circle cx="429.43" cy="385.39" r="2.15"/><circle cx="445.28" cy="389.27" r="2.15"/><circle cx="461.13" cy="418.38" r="2.15"/><circle cx="476.99" cy="281.26" r="2.15"/><circle cx="492.84" cy="378.92" r="2.15"/><circle cx="508.69" cy="424.2" r="2.15"/><circle cx="524.55" cy="424.2" r="2.15"/><circle cx="540.4" cy="327.18" r="2.15"/></g>
<path d="M318.45 308.42 L334.31 293.55 L350.16 358.23 L366.01 414.5 L381.87 363.4 L397.72 358.23 L413.57 422.26 L429.43 420.97 L445.28 422.26 L461.13 415.14 L476.99 281.26 L492.84 378.28 L508.69 420.97 L524.55 421.61 L540.4 325.24" fill="none" stroke="#32409c" stroke-width="1.25" stroke-linejoin="round"/>
<g fill="none" stroke="#32409c" stroke-width="1.05"><circle cx="318.45" cy="308.42" r="2.15"/><circle cx="334.31" cy="293.55" r="2.15"/><circle cx="350.16" cy="358.23" r="2.15"/><circle cx="366.01" cy="414.5" r="2.15"/><circle cx="381.87" cy="363.4" r="2.15"/><circle cx="397.72" cy="358.23" r="2.15"/><circle cx="413.57" cy="422.26" r="2.15"/><circle cx="429.43" cy="420.97" r="2.15"/><circle cx="445.28" cy="422.26" r="2.15"/><circle cx="461.13" cy="415.14" r="2.15"/><circle cx="476.99" cy="281.26" r="2.15"/><circle cx="492.84" cy="378.28" r="2.15"/><circle cx="508.69" cy="420.97" r="2.15"/><circle cx="524.55" cy="421.61" r="2.15"/><circle cx="540.4" cy="325.24" r="2.15"/></g>
<rect x="302.6" y="262.5" width="237.8" height="161.7" fill="none" stroke="#a6a6a6" stroke-width="1"/>
<path d="M302.6 424.2v-2M302.6 262.5v2M381.87 424.2v-2M381.87 262.5v2M461.13 424.2v-2M461.13 262.5v2M540.4 424.2v-2M540.4 262.5v2M302.6 424.2h2M540.4 424.2h-2M302.6 391.86h2M540.4 391.86h-2M302.6 359.52h2M540.4 359.52h-2M302.6 327.18h2M540.4 327.18h-2M302.6 294.84h2M540.4 294.84h-2M302.6 262.5h2M540.4 262.5h-2" stroke="#a6a6a6" stroke-width="0.8" fill="none"/>
<text x="302.6" y="435.1" text-anchor="middle" font-size="7.2" fill="#1c1c1c" stroke="#1c1c1c" stroke-width="0.1">0</text>
<text x="381.87" y="435.1" text-anchor="middle" font-size="7.2" fill="#1c1c1c" stroke="#1c1c1c" stroke-width="0.1">5</text>
<text x="461.13" y="435.1" text-anchor="middle" font-size="7.2" fill="#1c1c1c" stroke="#1c1c1c" stroke-width="0.1">10</text>
<text x="540.4" y="435.1" text-anchor="middle" font-size="7.2" fill="#1c1c1c" stroke="#1c1c1c" stroke-width="0.1">15</text>
<text x="300.1" y="427.2" text-anchor="end" font-size="7.2" fill="#1c1c1c" stroke="#1c1c1c" stroke-width="0.1">2</text>
<text x="300.1" y="394.86" text-anchor="end" font-size="7.2" fill="#1c1c1c" stroke="#1c1c1c" stroke-width="0.1">2.5</text>
<text x="300.1" y="362.52" text-anchor="end" font-size="7.2" fill="#1c1c1c" stroke="#1c1c1c" stroke-width="0.1">3</text>
<text x="300.1" y="330.18" text-anchor="end" font-size="7.2" fill="#1c1c1c" stroke="#1c1c1c" stroke-width="0.1">3.5</text>
<text x="300.1" y="297.84" text-anchor="end" font-size="7.2" fill="#1c1c1c" stroke="#1c1c1c" stroke-width="0.1">4</text>
<text x="300.1" y="265.5" text-anchor="end" font-size="7.2" fill="#1c1c1c" stroke="#1c1c1c" stroke-width="0.1">4.5</text>
<text x="389.6" y="444.9" font-size="7" fill="#1c1c1c" stroke="#1c1c1c" stroke-width="0.14" textLength="58.2" lengthAdjust="spacingAndGlyphs">Prediction sample</text>
<text transform="translate(286.4 368.3) rotate(-90)" x="0" y="0" font-size="7" fill="#1c1c1c" stroke="#1c1c1c" stroke-width="0.14" textLength="46.7" lengthAdjust="spacingAndGlyphs">Forecast result</text>
<text x="351.8" y="248.6" font-size="6.9" fill="#2a2a2a" stroke="#2a2a2a" stroke-width="0.06" textLength="131.8" lengthAdjust="spacingAndGlyphs">Comparison of test set prediction results</text>
<text x="310.2" y="259.5" font-size="8.68" fill="#111" stroke="#111" stroke-width="0.16" textLength="221.6" lengthAdjust="spacingAndGlyphs">(R<tspan font-size="5.59" dy="-3.69">2</tspan><tspan dy="3.69"> =0.88884 RMSE= 0.28679 MSE= 0.082246 RPD= 2.9215)</tspan></text>
<rect x="487.6" y="268.4" width="48" height="19.8" fill="#fff" stroke="#a6a6a6" stroke-width="0.8"/>
<path d="M489.4 273.5H511.6" stroke="#dc3a3e" stroke-width="1.5"/><circle cx="500.08" cy="273.5" r="2.3" fill="none" stroke="#dc3a3e" stroke-width="1.2"/>
<path d="M489.4 282.85H511.6" stroke="#32409c" stroke-width="1.5"/><circle cx="500.08" cy="282.85" r="2.3" fill="none" stroke="#32409c" stroke-width="1.2"/>
<text x="512" y="274.9" font-size="4.4" fill="#111" stroke="#111" stroke-width="0.12" lengthAdjust="spacingAndGlyphs" textLength="22">Actual value</text>
<text x="512" y="282.35" font-size="4.4" fill="#111" stroke="#111" stroke-width="0.12" lengthAdjust="spacingAndGlyphs" textLength="18.04">Prediction</text>
<text x="512" y="286.05" font-size="4.4" fill="#111" stroke="#111" stroke-width="0.12" lengthAdjust="spacingAndGlyphs" textLength="9.68">value</text></g>
<g><path d="M27.49 539.65 L29.48 534.68 L31.48 548.23 L33.47 513.91 L35.46 615.95 L37.45 591.57 L39.44 501.27 L41.43 573.96 L43.42 500.82 L45.42 621.37 L47.41 559.06 L49.4 532.42 L51.39 582.99 L53.38 629.5 L55.38 527 L57.37 600.6 L59.36 589.76 L61.35 627.24 L63.34 501.72 L65.33 539.65 L67.32 612.34 L69.32 565.38 L71.31 508.94 L73.3 514.81 L75.29 596.08 L77.28 513.01 L79.28 622.27 L81.27 573.06 L83.26 502.62 L85.25 613.24 L87.24 525.65 L89.23 596.99 L91.23 591.57 L93.22 563.58 L95.21 556.8 L97.2 568.99 L99.19 578.02 L101.18 507.59 L103.17 614.6 L105.17 558.61 L107.16 626.79 L109.15 575.32 L111.14 542.36 L113.13 556.8 L115.12 548.23 L117.12 623.63 L119.11 604.66 L121.1 609.63 L123.09 534.23 L125.08 542.81 L127.08 623.63 L129.07 616.85 L131.06 588.41 L133.05 596.99 L135.04 558.61 L137.03 600.15 L139.02 531.07 L141.02 612.34 L143.01 521.59 L145 604.21 L146.99 597.44 L148.98 515.72 L150.98 503.07 L152.97 593.83 L154.96 614.6 L156.95 607.82 L158.94 523.39 L160.93 610.08 L162.92 569.9 L164.92 588.86 L166.91 622.72 L168.9 552.74 L170.89 590.67 L172.88 566.74 L174.88 561.77 L176.87 587.51 L178.86 545.06 L180.85 573.06 L182.84 578.93 L184.83 622.72 L186.83 601.05 L188.82 590.67 L190.81 555 L192.8 537.84 L194.79 592.92 L196.78 604.66 L198.78 546.87 L200.77 545.06 L202.76 564.48 L204.75 559.51 L206.74 587.51 L208.73 573.96 L210.72 525.65 L212.72 563.58 L214.71 625.88 L216.7 616.85 L218.69 543.71 L220.68 615.95 L222.67 617.76 L224.67 498.56 L226.66 557.71 L228.65 510.75 L230.64 615.95" fill="none" stroke="#dc3a3e" stroke-width="1.25" stroke-linejoin="round"/>
<g fill="none" stroke="#dc3a3e" stroke-width="1.05"><circle cx="27.49" cy="539.65" r="2.0"/><circle cx="29.48" cy="534.68" r="2.0"/><circle cx="31.48" cy="548.23" r="2.0"/><circle cx="33.47" cy="513.91" r="2.0"/><circle cx="35.46" cy="615.95" r="2.0"/><circle cx="37.45" cy="591.57" r="2.0"/><circle cx="39.44" cy="501.27" r="2.0"/><circle cx="41.43" cy="573.96" r="2.0"/><circle cx="43.42" cy="500.82" r="2.0"/><circle cx="45.42" cy="621.37" r="2.0"/><circle cx="47.41" cy="559.06" r="2.0"/><circle cx="49.4" cy="532.42" r="2.0"/><circle cx="51.39" cy="582.99" r="2.0"/><circle cx="53.38" cy="629.5" r="2.0"/><circle cx="55.38" cy="527" r="2.0"/><circle cx="57.37" cy="600.6" r="2.0"/><circle cx="59.36" cy="589.76" r="2.0"/><circle cx="61.35" cy="627.24" r="2.0"/><circle cx="63.34" cy="501.72" r="2.0"/><circle cx="65.33" cy="539.65" r="2.0"/><circle cx="67.32" cy="612.34" r="2.0"/><circle cx="69.32" cy="565.38" r="2.0"/><circle cx="71.31" cy="508.94" r="2.0"/><circle cx="73.3" cy="514.81" r="2.0"/><circle cx="75.29" cy="596.08" r="2.0"/><circle cx="77.28" cy="513.01" r="2.0"/><circle cx="79.28" cy="622.27" r="2.0"/><circle cx="81.27" cy="573.06" r="2.0"/><circle cx="83.26" cy="502.62" r="2.0"/><circle cx="85.25" cy="613.24" r="2.0"/><circle cx="87.24" cy="525.65" r="2.0"/><circle cx="89.23" cy="596.99" r="2.0"/><circle cx="91.23" cy="591.57" r="2.0"/><circle cx="93.22" cy="563.58" r="2.0"/><circle cx="95.21" cy="556.8" r="2.0"/><circle cx="97.2" cy="568.99" r="2.0"/><circle cx="99.19" cy="578.02" r="2.0"/><circle cx="101.18" cy="507.59" r="2.0"/><circle cx="103.17" cy="614.6" r="2.0"/><circle cx="105.17" cy="558.61" r="2.0"/><circle cx="107.16" cy="626.79" r="2.0"/><circle cx="109.15" cy="575.32" r="2.0"/><circle cx="111.14" cy="542.36" r="2.0"/><circle cx="113.13" cy="556.8" r="2.0"/><circle cx="115.12" cy="548.23" r="2.0"/><circle cx="117.12" cy="623.63" r="2.0"/><circle cx="119.11" cy="604.66" r="2.0"/><circle cx="121.1" cy="609.63" r="2.0"/><circle cx="123.09" cy="534.23" r="2.0"/><circle cx="125.08" cy="542.81" r="2.0"/><circle cx="127.08" cy="623.63" r="2.0"/><circle cx="129.07" cy="616.85" r="2.0"/><circle cx="131.06" cy="588.41" r="2.0"/><circle cx="133.05" cy="596.99" r="2.0"/><circle cx="135.04" cy="558.61" r="2.0"/><circle cx="137.03" cy="600.15" r="2.0"/><circle cx="139.02" cy="531.07" r="2.0"/><circle cx="141.02" cy="612.34" r="2.0"/><circle cx="143.01" cy="521.59" r="2.0"/><circle cx="145" cy="604.21" r="2.0"/><circle cx="146.99" cy="597.44" r="2.0"/><circle cx="148.98" cy="515.72" r="2.0"/><circle cx="150.98" cy="503.07" r="2.0"/><circle cx="152.97" cy="593.83" r="2.0"/><circle cx="154.96" cy="614.6" r="2.0"/><circle cx="156.95" cy="607.82" r="2.0"/><circle cx="158.94" cy="523.39" r="2.0"/><circle cx="160.93" cy="610.08" r="2.0"/><circle cx="162.92" cy="569.9" r="2.0"/><circle cx="164.92" cy="588.86" r="2.0"/><circle cx="166.91" cy="622.72" r="2.0"/><circle cx="168.9" cy="552.74" r="2.0"/><circle cx="170.89" cy="590.67" r="2.0"/><circle cx="172.88" cy="566.74" r="2.0"/><circle cx="174.88" cy="561.77" r="2.0"/><circle cx="176.87" cy="587.51" r="2.0"/><circle cx="178.86" cy="545.06" r="2.0"/><circle cx="180.85" cy="573.06" r="2.0"/><circle cx="182.84" cy="578.93" r="2.0"/><circle cx="184.83" cy="622.72" r="2.0"/><circle cx="186.83" cy="601.05" r="2.0"/><circle cx="188.82" cy="590.67" r="2.0"/><circle cx="190.81" cy="555" r="2.0"/><circle cx="192.8" cy="537.84" r="2.0"/><circle cx="194.79" cy="592.92" r="2.0"/><circle cx="196.78" cy="604.66" r="2.0"/><circle cx="198.78" cy="546.87" r="2.0"/><circle cx="200.77" cy="545.06" r="2.0"/><circle cx="202.76" cy="564.48" r="2.0"/><circle cx="204.75" cy="559.51" r="2.0"/><circle cx="206.74" cy="587.51" r="2.0"/><circle cx="208.73" cy="573.96" r="2.0"/><circle cx="210.72" cy="525.65" r="2.0"/><circle cx="212.72" cy="563.58" r="2.0"/><circle cx="214.71" cy="625.88" r="2.0"/><circle cx="216.7" cy="616.85" r="2.0"/><circle cx="218.69" cy="543.71" r="2.0"/><circle cx="220.68" cy="615.95" r="2.0"/><circle cx="222.67" cy="617.76" r="2.0"/><circle cx="224.67" cy="498.56" r="2.0"/><circle cx="226.66" cy="557.71" r="2.0"/><circle cx="228.65" cy="510.75" r="2.0"/><circle cx="230.64" cy="615.95" r="2.0"/></g>
<path d="M27.49 539.65 L29.48 534.68 L31.48 548.23 L33.47 513.91 L35.46 613.69 L37.45 587.96 L39.44 501.27 L41.43 573.96 L43.42 503.98 L45.42 621.37 L47.41 559.06 L49.4 532.42 L51.39 611.89 L53.38 626.79 L55.38 527 L57.37 600.6 L59.36 589.76 L61.35 633.56 L63.34 501.72 L65.33 539.65 L67.32 614.6 L69.32 565.38 L71.31 511.65 L73.3 518.88 L75.29 596.08 L77.28 513.01 L79.28 622.27 L81.27 573.06 L83.26 502.62 L85.25 613.24 L87.24 525.65 L89.23 593.83 L91.23 591.57 L93.22 563.58 L95.21 556.8 L97.2 552.29 L99.19 578.02 L101.18 507.59 L103.17 609.63 L105.17 558.61 L107.16 626.79 L109.15 612.34 L111.14 542.36 L113.13 556.8 L115.12 548.23 L117.12 621.82 L119.11 604.66 L121.1 609.63 L123.09 534.23 L125.08 542.81 L127.08 621.82 L129.07 612.79 L131.06 588.41 L133.05 596.99 L135.04 558.61 L137.03 600.15 L139.02 569.45 L141.02 574.86 L143.01 525.65 L145 604.21 L146.99 614.14 L148.98 515.72 L150.98 503.07 L152.97 591.57 L154.96 614.6 L156.95 607.82 L158.94 523.39 L160.93 605.57 L162.92 569.9 L164.92 588.86 L166.91 618.66 L168.9 552.74 L170.89 590.67 L172.88 566.74 L174.88 564.93 L176.87 587.51 L178.86 547.32 L180.85 573.06 L182.84 578.93 L184.83 622.72 L186.83 601.05 L188.82 590.67 L190.81 555 L192.8 537.84 L194.79 592.92 L196.78 604.66 L198.78 546.87 L200.77 545.06 L202.76 564.48 L204.75 559.51 L206.74 598.79 L208.73 573.96 L210.72 525.65 L212.72 569.45 L214.71 625.88 L216.7 613.69 L218.69 543.71 L220.68 612.34 L222.67 655.23 L224.67 498.56 L226.66 557.71 L228.65 510.75 L230.64 612.79" fill="none" stroke="#32409c" stroke-width="1.25" stroke-linejoin="round"/>
<g fill="none" stroke="#32409c" stroke-width="1.05"><circle cx="27.49" cy="539.65" r="2.0"/><circle cx="29.48" cy="534.68" r="2.0"/><circle cx="31.48" cy="548.23" r="2.0"/><circle cx="33.47" cy="513.91" r="2.0"/><circle cx="35.46" cy="613.69" r="2.0"/><circle cx="37.45" cy="587.96" r="2.0"/><circle cx="39.44" cy="501.27" r="2.0"/><circle cx="41.43" cy="573.96" r="2.0"/><circle cx="43.42" cy="503.98" r="2.0"/><circle cx="45.42" cy="621.37" r="2.0"/><circle cx="47.41" cy="559.06" r="2.0"/><circle cx="49.4" cy="532.42" r="2.0"/><circle cx="51.39" cy="611.89" r="2.0"/><circle cx="53.38" cy="626.79" r="2.0"/><circle cx="55.38" cy="527" r="2.0"/><circle cx="57.37" cy="600.6" r="2.0"/><circle cx="59.36" cy="589.76" r="2.0"/><circle cx="61.35" cy="633.56" r="2.0"/><circle cx="63.34" cy="501.72" r="2.0"/><circle cx="65.33" cy="539.65" r="2.0"/><circle cx="67.32" cy="614.6" r="2.0"/><circle cx="69.32" cy="565.38" r="2.0"/><circle cx="71.31" cy="511.65" r="2.0"/><circle cx="73.3" cy="518.88" r="2.0"/><circle cx="75.29" cy="596.08" r="2.0"/><circle cx="77.28" cy="513.01" r="2.0"/><circle cx="79.28" cy="622.27" r="2.0"/><circle cx="81.27" cy="573.06" r="2.0"/><circle cx="83.26" cy="502.62" r="2.0"/><circle cx="85.25" cy="613.24" r="2.0"/><circle cx="87.24" cy="525.65" r="2.0"/><circle cx="89.23" cy="593.83" r="2.0"/><circle cx="91.23" cy="591.57" r="2.0"/><circle cx="93.22" cy="563.58" r="2.0"/><circle cx="95.21" cy="556.8" r="2.0"/><circle cx="97.2" cy="552.29" r="2.0"/><circle cx="99.19" cy="578.02" r="2.0"/><circle cx="101.18" cy="507.59" r="2.0"/><circle cx="103.17" cy="609.63" r="2.0"/><circle cx="105.17" cy="558.61" r="2.0"/><circle cx="107.16" cy="626.79" r="2.0"/><circle cx="109.15" cy="612.34" r="2.0"/><circle cx="111.14" cy="542.36" r="2.0"/><circle cx="113.13" cy="556.8" r="2.0"/><circle cx="115.12" cy="548.23" r="2.0"/><circle cx="117.12" cy="621.82" r="2.0"/><circle cx="119.11" cy="604.66" r="2.0"/><circle cx="121.1" cy="609.63" r="2.0"/><circle cx="123.09" cy="534.23" r="2.0"/><circle cx="125.08" cy="542.81" r="2.0"/><circle cx="127.08" cy="621.82" r="2.0"/><circle cx="129.07" cy="612.79" r="2.0"/><circle cx="131.06" cy="588.41" r="2.0"/><circle cx="133.05" cy="596.99" r="2.0"/><circle cx="135.04" cy="558.61" r="2.0"/><circle cx="137.03" cy="600.15" r="2.0"/><circle cx="139.02" cy="569.45" r="2.0"/><circle cx="141.02" cy="574.86" r="2.0"/><circle cx="143.01" cy="525.65" r="2.0"/><circle cx="145" cy="604.21" r="2.0"/><circle cx="146.99" cy="614.14" r="2.0"/><circle cx="148.98" cy="515.72" r="2.0"/><circle cx="150.98" cy="503.07" r="2.0"/><circle cx="152.97" cy="591.57" r="2.0"/><circle cx="154.96" cy="614.6" r="2.0"/><circle cx="156.95" cy="607.82" r="2.0"/><circle cx="158.94" cy="523.39" r="2.0"/><circle cx="160.93" cy="605.57" r="2.0"/><circle cx="162.92" cy="569.9" r="2.0"/><circle cx="164.92" cy="588.86" r="2.0"/><circle cx="166.91" cy="618.66" r="2.0"/><circle cx="168.9" cy="552.74" r="2.0"/><circle cx="170.89" cy="590.67" r="2.0"/><circle cx="172.88" cy="566.74" r="2.0"/><circle cx="174.88" cy="564.93" r="2.0"/><circle cx="176.87" cy="587.51" r="2.0"/><circle cx="178.86" cy="547.32" r="2.0"/><circle cx="180.85" cy="573.06" r="2.0"/><circle cx="182.84" cy="578.93" r="2.0"/><circle cx="184.83" cy="622.72" r="2.0"/><circle cx="186.83" cy="601.05" r="2.0"/><circle cx="188.82" cy="590.67" r="2.0"/><circle cx="190.81" cy="555" r="2.0"/><circle cx="192.8" cy="537.84" r="2.0"/><circle cx="194.79" cy="592.92" r="2.0"/><circle cx="196.78" cy="604.66" r="2.0"/><circle cx="198.78" cy="546.87" r="2.0"/><circle cx="200.77" cy="545.06" r="2.0"/><circle cx="202.76" cy="564.48" r="2.0"/><circle cx="204.75" cy="559.51" r="2.0"/><circle cx="206.74" cy="598.79" r="2.0"/><circle cx="208.73" cy="573.96" r="2.0"/><circle cx="210.72" cy="525.65" r="2.0"/><circle cx="212.72" cy="569.45" r="2.0"/><circle cx="214.71" cy="625.88" r="2.0"/><circle cx="216.7" cy="613.69" r="2.0"/><circle cx="218.69" cy="543.71" r="2.0"/><circle cx="220.68" cy="612.34" r="2.0"/><circle cx="222.67" cy="655.23" r="2.0"/><circle cx="224.67" cy="498.56" r="2.0"/><circle cx="226.66" cy="557.71" r="2.0"/><circle cx="228.65" cy="510.75" r="2.0"/><circle cx="230.64" cy="612.79" r="2.0"/></g>
<rect x="25.5" y="480.5" width="239" height="180.6" fill="none" stroke="#a6a6a6" stroke-width="1"/>
<path d="M25.5 661.1v-2M25.5 480.5v2M65.33 661.1v-2M65.33 480.5v2M105.17 661.1v-2M105.17 480.5v2M145 661.1v-2M145 480.5v2M184.83 661.1v-2M184.83 480.5v2M224.67 661.1v-2M224.67 480.5v2M264.5 661.1v-2M264.5 480.5v2M25.5 661.1h2M264.5 661.1h-2M25.5 638.52h2M264.5 638.52h-2M25.5 615.95h2M264.5 615.95h-2M25.5 593.38h2M264.5 593.38h-2M25.5 570.8h2M264.5 570.8h-2M25.5 548.23h2M264.5 548.23h-2M25.5 525.65h2M264.5 525.65h-2M25.5 503.07h2M264.5 503.07h-2M25.5 480.5h2M264.5 480.5h-2" stroke="#a6a6a6" stroke-width="0.8" fill="none"/>
<text x="25.5" y="671.9" text-anchor="middle" font-size="7.2" fill="#1c1c1c" stroke="#1c1c1c" stroke-width="0.1">0</text>
<text x="65.33" y="671.9" text-anchor="middle" font-size="7.2" fill="#1c1c1c" stroke="#1c1c1c" stroke-width="0.1">20</text>
<text x="105.17" y="671.9" text-anchor="middle" font-size="7.2" fill="#1c1c1c" stroke="#1c1c1c" stroke-width="0.1">40</text>
<text x="145" y="671.9" text-anchor="middle" font-size="7.2" fill="#1c1c1c" stroke="#1c1c1c" stroke-width="0.1">60</text>
<text x="184.83" y="671.9" text-anchor="middle" font-size="7.2" fill="#1c1c1c" stroke="#1c1c1c" stroke-width="0.1">80</text>
<text x="224.67" y="671.9" text-anchor="middle" font-size="7.2" fill="#1c1c1c" stroke="#1c1c1c" stroke-width="0.1">100</text>
<text x="264.5" y="671.9" text-anchor="middle" font-size="7.2" fill="#1c1c1c" stroke="#1c1c1c" stroke-width="0.1">120</text>
<text x="22.4" y="664.1" text-anchor="end" font-size="7.2" fill="#1c1c1c" stroke="#1c1c1c" stroke-width="0.1">1</text>
<text x="22.4" y="641.52" text-anchor="end" font-size="7.2" fill="#1c1c1c" stroke="#1c1c1c" stroke-width="0.1">1.5</text>
<text x="22.4" y="618.95" text-anchor="end" font-size="7.2" fill="#1c1c1c" stroke="#1c1c1c" stroke-width="0.1">2</text>
<text x="22.4" y="596.38" text-anchor="end" font-size="7.2" fill="#1c1c1c" stroke="#1c1c1c" stroke-width="0.1">2.5</text>
<text x="22.4" y="573.8" text-anchor="end" font-size="7.2" fill="#1c1c1c" stroke="#1c1c1c" stroke-width="0.1">3</text>
<text x="22.4" y="551.23" text-anchor="end" font-size="7.2" fill="#1c1c1c" stroke="#1c1c1c" stroke-width="0.1">3.5</text>
<text x="22.4" y="528.65" text-anchor="end" font-size="7.2" fill="#1c1c1c" stroke="#1c1c1c" stroke-width="0.1">4</text>
<text x="22.4" y="506.07" text-anchor="end" font-size="7.2" fill="#1c1c1c" stroke="#1c1c1c" stroke-width="0.1">4.5</text>
<text x="22.4" y="483.5" text-anchor="end" font-size="7.2" fill="#1c1c1c" stroke="#1c1c1c" stroke-width="0.1">5</text>
<text x="115.1" y="682.3" font-size="7" fill="#1c1c1c" stroke="#1c1c1c" stroke-width="0.14" textLength="58" lengthAdjust="spacingAndGlyphs">Prediction sample</text>
<text transform="translate(10.6 596.6) rotate(-90)" x="0" y="0" font-size="7" fill="#1c1c1c" stroke="#1c1c1c" stroke-width="0.14" textLength="47.8" lengthAdjust="spacingAndGlyphs">Forecast result</text>
<text x="67.7" y="466.4" font-size="6.9" fill="#2a2a2a" stroke="#2a2a2a" stroke-width="0.06" textLength="153.4" lengthAdjust="spacingAndGlyphs">Comparison of training set prediction structure</text>
<text x="34.8" y="477.7" font-size="8.66" fill="#111" stroke="#111" stroke-width="0.16" textLength="220.9" lengthAdjust="spacingAndGlyphs">(R<tspan font-size="5.57" dy="-3.68">2</tspan><tspan dy="3.68"> =0.95281 RMSE= 0.1893 MSE= 0.035836 RPD= 4.5976)</tspan></text>
<rect x="211.5" y="486.9" width="47.9" height="19.3" fill="#fff" stroke="#a6a6a6" stroke-width="0.8"/>
<path d="M213.3 492H235.45" stroke="#dc3a3e" stroke-width="1.5"/><circle cx="223.95" cy="492" r="2.3" fill="none" stroke="#dc3a3e" stroke-width="1.2"/>
<path d="M213.3 500.99H235.45" stroke="#32409c" stroke-width="1.5"/><circle cx="223.95" cy="500.99" r="2.3" fill="none" stroke="#32409c" stroke-width="1.2"/>
<text x="235.85" y="493.4" font-size="4.4" fill="#111" stroke="#111" stroke-width="0.12" lengthAdjust="spacingAndGlyphs" textLength="21.95">Actual value</text>
<text x="235.85" y="500.49" font-size="4.4" fill="#111" stroke="#111" stroke-width="0.12" lengthAdjust="spacingAndGlyphs" textLength="18">Prediction</text>
<text x="235.85" y="504.19" font-size="4.4" fill="#111" stroke="#111" stroke-width="0.12" lengthAdjust="spacingAndGlyphs" textLength="9.66">value</text></g>
<g><line x1="302.6" y1="635.29" x2="541.6" y2="635.29" stroke="#ededed" stroke-width="1"/>
<line x1="302.6" y1="609.57" x2="541.6" y2="609.57" stroke="#ededed" stroke-width="1"/>
<line x1="302.6" y1="583.86" x2="541.6" y2="583.86" stroke="#ededed" stroke-width="1"/>
<line x1="302.6" y1="558.14" x2="541.6" y2="558.14" stroke="#ededed" stroke-width="1"/>
<line x1="302.6" y1="532.43" x2="541.6" y2="532.43" stroke="#ededed" stroke-width="1"/>
<line x1="302.6" y1="506.71" x2="541.6" y2="506.71" stroke="#ededed" stroke-width="1"/>
<line x1="382.27" y1="481" x2="382.27" y2="661" stroke="#ededed" stroke-width="1"/>
<line x1="461.93" y1="481" x2="461.93" y2="661" stroke="#ededed" stroke-width="1"/>
<path d="M318.53 503.11 L334.47 607 L350.4 539.63 L366.33 529.34 L382.27 517 L398.2 512.37 L414.13 633.74 L430.07 507.74 L446 566.37 L461.93 534.49 L477.87 645.57 L493.8 581.29 L509.73 532.94 L525.67 651.23 L541.6 575.11" fill="none" stroke="#dc3a3e" stroke-width="1.25" stroke-linejoin="round"/>
<g fill="none" stroke="#dc3a3e" stroke-width="1.05"><circle cx="318.53" cy="503.11" r="2.15"/><circle cx="334.47" cy="607" r="2.15"/><circle cx="350.4" cy="539.63" r="2.15"/><circle cx="366.33" cy="529.34" r="2.15"/><circle cx="382.27" cy="517" r="2.15"/><circle cx="398.2" cy="512.37" r="2.15"/><circle cx="414.13" cy="633.74" r="2.15"/><circle cx="430.07" cy="507.74" r="2.15"/><circle cx="446" cy="566.37" r="2.15"/><circle cx="461.93" cy="534.49" r="2.15"/><circle cx="477.87" cy="645.57" r="2.15"/><circle cx="493.8" cy="581.29" r="2.15"/><circle cx="509.73" cy="532.94" r="2.15"/><circle cx="525.67" cy="651.23" r="2.15"/><circle cx="541.6" cy="575.11" r="2.15"/></g>
<path d="M318.53 504.66 L334.47 606.49 L350.4 541.17 L366.33 534.49 L382.27 523.17 L398.2 518.03 L414.13 629.11 L430.07 513.4 L446 566.37 L461.93 582.31 L477.87 640.94 L493.8 581.29 L509.73 537.06 L525.67 646.6 L541.6 575.11" fill="none" stroke="#32409c" stroke-width="1.25" stroke-linejoin="round"/>
<g fill="none" stroke="#32409c" stroke-width="1.05"><circle cx="318.53" cy="504.66" r="2.15"/><circle cx="334.47" cy="606.49" r="2.15"/><circle cx="350.4" cy="541.17" r="2.15"/><circle cx="366.33" cy="534.49" r="2.15"/><circle cx="382.27" cy="523.17" r="2.15"/><circle cx="398.2" cy="518.03" r="2.15"/><circle cx="414.13" cy="629.11" r="2.15"/><circle cx="430.07" cy="513.4" r="2.15"/><circle cx="446" cy="566.37" r="2.15"/><circle cx="461.93" cy="582.31" r="2.15"/><circle cx="477.87" cy="640.94" r="2.15"/><circle cx="493.8" cy="581.29" r="2.15"/><circle cx="509.73" cy="537.06" r="2.15"/><circle cx="525.67" cy="646.6" r="2.15"/><circle cx="541.6" cy="575.11" r="2.15"/></g>
<rect x="302.6" y="481" width="239" height="180" fill="none" stroke="#a6a6a6" stroke-width="1"/>
<path d="M302.6 661v-2M302.6 481v2M382.27 661v-2M382.27 481v2M461.93 661v-2M461.93 481v2M541.6 661v-2M541.6 481v2M302.6 661h2M541.6 661h-2M302.6 635.29h2M541.6 635.29h-2M302.6 609.57h2M541.6 609.57h-2M302.6 583.86h2M541.6 583.86h-2M302.6 558.14h2M541.6 558.14h-2M302.6 532.43h2M541.6 532.43h-2M302.6 506.71h2M541.6 506.71h-2M302.6 481h2M541.6 481h-2" stroke="#a6a6a6" stroke-width="0.8" fill="none"/>
<text x="302.6" y="671.6" text-anchor="middle" font-size="7.2" fill="#1c1c1c" stroke="#1c1c1c" stroke-width="0.1">0</text>
<text x="382.27" y="671.6" text-anchor="middle" font-size="7.2" fill="#1c1c1c" stroke="#1c1c1c" stroke-width="0.1">5</text>
<text x="461.93" y="671.6" text-anchor="middle" font-size="7.2" fill="#1c1c1c" stroke="#1c1c1c" stroke-width="0.1">10</text>
<text x="541.6" y="671.6" text-anchor="middle" font-size="7.2" fill="#1c1c1c" stroke="#1c1c1c" stroke-width="0.1">15</text>
<text x="300.1" y="664" text-anchor="end" font-size="7.2" fill="#1c1c1c" stroke="#1c1c1c" stroke-width="0.1">1.5</text>
<text x="300.1" y="638.29" text-anchor="end" font-size="7.2" fill="#1c1c1c" stroke="#1c1c1c" stroke-width="0.1">2</text>
<text x="300.1" y="612.57" text-anchor="end" font-size="7.2" fill="#1c1c1c" stroke="#1c1c1c" stroke-width="0.1">2.5</text>
<text x="300.1" y="586.86" text-anchor="end" font-size="7.2" fill="#1c1c1c" stroke="#1c1c1c" stroke-width="0.1">3</text>
<text x="300.1" y="561.14" text-anchor="end" font-size="7.2" fill="#1c1c1c" stroke="#1c1c1c" stroke-width="0.1">3.5</text>
<text x="300.1" y="535.43" text-anchor="end" font-size="7.2" fill="#1c1c1c" stroke="#1c1c1c" stroke-width="0.1">4</text>
<text x="300.1" y="509.71" text-anchor="end" font-size="7.2" fill="#1c1c1c" stroke="#1c1c1c" stroke-width="0.1">4.5</text>
<text x="300.1" y="484" text-anchor="end" font-size="7.2" fill="#1c1c1c" stroke="#1c1c1c" stroke-width="0.1">5</text>
<text x="389.6" y="682.3" font-size="7" fill="#1c1c1c" stroke="#1c1c1c" stroke-width="0.14" textLength="58.2" lengthAdjust="spacingAndGlyphs">Prediction sample</text>
<text transform="translate(286.4 596) rotate(-90)" x="0" y="0" font-size="7" fill="#1c1c1c" stroke="#1c1c1c" stroke-width="0.14" textLength="47.7" lengthAdjust="spacingAndGlyphs">Forecast result</text>
<text x="351.8" y="466.4" font-size="6.9" fill="#2a2a2a" stroke="#2a2a2a" stroke-width="0.06" textLength="131.8" lengthAdjust="spacingAndGlyphs">Comparison of test set prediction results</text>
<text x="310.2" y="477.7" font-size="8.68" fill="#111" stroke="#111" stroke-width="0.16" textLength="221.6" lengthAdjust="spacingAndGlyphs">(R<tspan font-size="5.59" dy="-3.69">2</tspan><tspan dy="3.69"> =0.94211 RMSE= 0.24554 MSE= 0.060289 RPD= 4.0873)</tspan></text>
<rect x="488.3" y="486.5" width="48.2" height="19.9" fill="#fff" stroke="#a6a6a6" stroke-width="0.8"/>
<path d="M490.1 491.6H512.4" stroke="#dc3a3e" stroke-width="1.5"/><circle cx="500.83" cy="491.6" r="2.3" fill="none" stroke="#dc3a3e" stroke-width="1.2"/>
<path d="M490.1 501.03H512.4" stroke="#32409c" stroke-width="1.5"/><circle cx="500.83" cy="501.03" r="2.3" fill="none" stroke="#32409c" stroke-width="1.2"/>
<text x="512.8" y="493" font-size="4.4" fill="#111" stroke="#111" stroke-width="0.12" lengthAdjust="spacingAndGlyphs" textLength="22.1">Actual value</text>
<text x="512.8" y="500.53" font-size="4.4" fill="#111" stroke="#111" stroke-width="0.12" lengthAdjust="spacingAndGlyphs" textLength="18.12">Prediction</text>
<text x="512.8" y="504.23" font-size="4.4" fill="#111" stroke="#111" stroke-width="0.12" lengthAdjust="spacingAndGlyphs" textLength="9.72">value</text></g>
<g><path d="M27.49 844.54 L29.48 875.98 L31.48 848.66 L33.47 858.97 L35.46 810.01 L37.45 840.93 L39.44 853.82 L41.43 857.94 L43.42 827.02 L45.42 778.57 L47.41 865.16 L49.4 897.11 L51.39 858.97 L53.38 846.6 L55.38 825.99 L57.37 835.78 L59.36 829.08 L61.35 761.56 L63.34 766.2 L65.33 829.59 L67.32 847.63 L69.32 794.03 L71.31 824.95 L73.3 832.69 L75.29 800.73 L77.28 847.12 L79.28 825.47 L81.27 878.56 L83.26 839.9 L85.25 785.78 L87.24 766.2 L89.23 857.94 L91.23 773.93 L93.22 900.21 L95.21 771.35 L97.2 861.03 L99.19 809.49 L101.18 785.78 L103.17 768.77 L105.17 785.27 L107.16 854.85 L109.15 896.08 L111.14 783.2 L113.13 844.54 L115.12 848.15 L117.12 786.81 L119.11 764.13 L121.1 751.25 L123.09 812.07 L125.08 754.86 L127.08 841.96 L129.07 802.79 L131.06 829.59 L133.05 890.93 L135.04 752.79 L137.03 750.22 L139.02 755.37 L141.02 809.49 L143.01 800.73 L145 767.74 L146.99 827.02 L148.98 810.52 L150.98 802.79 L152.97 829.59 L154.96 780.11 L156.95 892.48 L158.94 790.42 L160.93 774.44 L162.92 840.93 L164.92 830.62 L166.91 764.13 L168.9 873.92 L170.89 784.75 L172.88 832.69 L174.88 764.13 L176.87 808.46 L178.86 867.22 L180.85 853.82 L182.84 812.58 L184.83 899.18 L186.83 858.97 L188.82 818.77 L190.81 757.43 L192.8 783.2 L194.79 757.43 L196.78 844.54 L198.78 842.99 L200.77 797.12 L202.76 827.02 L204.75 816.71 L206.74 781.14 L208.73 750.73 L210.72 869.28 L212.72 884.74 L214.71 888.87 L216.7 887.84 L218.69 864.13 L220.68 785.78 L222.67 772.38 L224.67 853.3 L226.66 823.41 L228.65 863.61 L230.64 814.65 L232.63 790.42 L234.62 810.01" fill="none" stroke="#dc3a3e" stroke-width="1.25" stroke-linejoin="round"/>
<g fill="none" stroke="#dc3a3e" stroke-width="1.05"><circle cx="27.49" cy="844.54" r="2.0"/><circle cx="29.48" cy="875.98" r="2.0"/><circle cx="31.48" cy="848.66" r="2.0"/><circle cx="33.47" cy="858.97" r="2.0"/><circle cx="35.46" cy="810.01" r="2.0"/><circle cx="37.45" cy="840.93" r="2.0"/><circle cx="39.44" cy="853.82" r="2.0"/><circle cx="41.43" cy="857.94" r="2.0"/><circle cx="43.42" cy="827.02" r="2.0"/><circle cx="45.42" cy="778.57" r="2.0"/><circle cx="47.41" cy="865.16" r="2.0"/><circle cx="49.4" cy="897.11" r="2.0"/><circle cx="51.39" cy="858.97" r="2.0"/><circle cx="53.38" cy="846.6" r="2.0"/><circle cx="55.38" cy="825.99" r="2.0"/><circle cx="57.37" cy="835.78" r="2.0"/><circle cx="59.36" cy="829.08" r="2.0"/><circle cx="61.35" cy="761.56" r="2.0"/><circle cx="63.34" cy="766.2" r="2.0"/><circle cx="65.33" cy="829.59" r="2.0"/><circle cx="67.32" cy="847.63" r="2.0"/><circle cx="69.32" cy="794.03" r="2.0"/><circle cx="71.31" cy="824.95" r="2.0"/><circle cx="73.3" cy="832.69" r="2.0"/><circle cx="75.29" cy="800.73" r="2.0"/><circle cx="77.28" cy="847.12" r="2.0"/><circle cx="79.28" cy="825.47" r="2.0"/><circle cx="81.27" cy="878.56" r="2.0"/><circle cx="83.26" cy="839.9" r="2.0"/><circle cx="85.25" cy="785.78" r="2.0"/><circle cx="87.24" cy="766.2" r="2.0"/><circle cx="89.23" cy="857.94" r="2.0"/><circle cx="91.23" cy="773.93" r="2.0"/><circle cx="93.22" cy="900.21" r="2.0"/><circle cx="95.21" cy="771.35" r="2.0"/><circle cx="97.2" cy="861.03" r="2.0"/><circle cx="99.19" cy="809.49" r="2.0"/><circle cx="101.18" cy="785.78" r="2.0"/><circle cx="103.17" cy="768.77" r="2.0"/><circle cx="105.17" cy="785.27" r="2.0"/><circle cx="107.16" cy="854.85" r="2.0"/><circle cx="109.15" cy="896.08" r="2.0"/><circle cx="111.14" cy="783.2" r="2.0"/><circle cx="113.13" cy="844.54" r="2.0"/><circle cx="115.12" cy="848.15" r="2.0"/><circle cx="117.12" cy="786.81" r="2.0"/><circle cx="119.11" cy="764.13" r="2.0"/><circle cx="121.1" cy="751.25" r="2.0"/><circle cx="123.09" cy="812.07" r="2.0"/><circle cx="125.08" cy="754.86" r="2.0"/><circle cx="127.08" cy="841.96" r="2.0"/><circle cx="129.07" cy="802.79" r="2.0"/><circle cx="131.06" cy="829.59" r="2.0"/><circle cx="133.05" cy="890.93" r="2.0"/><circle cx="135.04" cy="752.79" r="2.0"/><circle cx="137.03" cy="750.22" r="2.0"/><circle cx="139.02" cy="755.37" r="2.0"/><circle cx="141.02" cy="809.49" r="2.0"/><circle cx="143.01" cy="800.73" r="2.0"/><circle cx="145" cy="767.74" r="2.0"/><circle cx="146.99" cy="827.02" r="2.0"/><circle cx="148.98" cy="810.52" r="2.0"/><circle cx="150.98" cy="802.79" r="2.0"/><circle cx="152.97" cy="829.59" r="2.0"/><circle cx="154.96" cy="780.11" r="2.0"/><circle cx="156.95" cy="892.48" r="2.0"/><circle cx="158.94" cy="790.42" r="2.0"/><circle cx="160.93" cy="774.44" r="2.0"/><circle cx="162.92" cy="840.93" r="2.0"/><circle cx="164.92" cy="830.62" r="2.0"/><circle cx="166.91" cy="764.13" r="2.0"/><circle cx="168.9" cy="873.92" r="2.0"/><circle cx="170.89" cy="784.75" r="2.0"/><circle cx="172.88" cy="832.69" r="2.0"/><circle cx="174.88" cy="764.13" r="2.0"/><circle cx="176.87" cy="808.46" r="2.0"/><circle cx="178.86" cy="867.22" r="2.0"/><circle cx="180.85" cy="853.82" r="2.0"/><circle cx="182.84" cy="812.58" r="2.0"/><circle cx="184.83" cy="899.18" r="2.0"/><circle cx="186.83" cy="858.97" r="2.0"/><circle cx="188.82" cy="818.77" r="2.0"/><circle cx="190.81" cy="757.43" r="2.0"/><circle cx="192.8" cy="783.2" r="2.0"/><circle cx="194.79" cy="757.43" r="2.0"/><circle cx="196.78" cy="844.54" r="2.0"/><circle cx="198.78" cy="842.99" r="2.0"/><circle cx="200.77" cy="797.12" r="2.0"/><circle cx="202.76" cy="827.02" r="2.0"/><circle cx="204.75" cy="816.71" r="2.0"/><circle cx="206.74" cy="781.14" r="2.0"/><circle cx="208.73" cy="750.73" r="2.0"/><circle cx="210.72" cy="869.28" r="2.0"/><circle cx="212.72" cy="884.74" r="2.0"/><circle cx="214.71" cy="888.87" r="2.0"/><circle cx="216.7" cy="887.84" r="2.0"/><circle cx="218.69" cy="864.13" r="2.0"/><circle cx="220.68" cy="785.78" r="2.0"/><circle cx="222.67" cy="772.38" r="2.0"/><circle cx="224.67" cy="853.3" r="2.0"/><circle cx="226.66" cy="823.41" r="2.0"/><circle cx="228.65" cy="863.61" r="2.0"/><circle cx="230.64" cy="814.65" r="2.0"/><circle cx="232.63" cy="790.42" r="2.0"/><circle cx="234.62" cy="810.01" r="2.0"/></g>
<path d="M27.49 844.54 L29.48 873.92 L31.48 879.59 L33.47 855.88 L35.46 810.01 L37.45 840.93 L39.44 853.82 L41.43 857.94 L43.42 827.02 L45.42 781.14 L47.41 865.16 L49.4 897.11 L51.39 877.01 L53.38 846.6 L55.38 825.99 L57.37 830.62 L59.36 829.08 L61.35 761.56 L63.34 766.2 L65.33 829.59 L67.32 847.63 L69.32 794.03 L71.31 824.95 L73.3 832.69 L75.29 797.64 L77.28 847.12 L79.28 825.47 L81.27 875.98 L83.26 839.9 L85.25 830.62 L87.24 766.2 L89.23 857.94 L91.23 780.63 L93.22 896.08 L95.21 771.35 L97.2 881.65 L99.19 809.49 L101.18 785.78 L103.17 768.77 L105.17 829.59 L107.16 879.07 L109.15 896.08 L111.14 783.2 L113.13 847.63 L115.12 848.15 L117.12 790.42 L119.11 766.71 L121.1 755.89 L123.09 829.08 L125.08 782.17 L127.08 841.96 L129.07 802.79 L131.06 829.59 L133.05 890.93 L135.04 752.79 L137.03 779.08 L139.02 755.37 L141.02 809.49 L143.01 800.73 L145 767.74 L146.99 827.02 L148.98 810.52 L150.98 831.65 L152.97 829.59 L154.96 780.11 L156.95 904.85 L158.94 790.42 L160.93 774.44 L162.92 840.93 L164.92 830.62 L166.91 764.13 L168.9 870.83 L170.89 786.81 L172.88 832.69 L174.88 766.2 L176.87 808.46 L178.86 864.13 L180.85 851.76 L182.84 810.01 L184.83 896.6 L186.83 856.91 L188.82 818.77 L190.81 757.43 L192.8 783.2 L194.79 761.04 L196.78 844.54 L198.78 842.99 L200.77 797.12 L202.76 830.62 L204.75 816.71 L206.74 778.05 L208.73 755.89 L210.72 867.22 L212.72 882.17 L214.71 884.74 L216.7 885.77 L218.69 879.59 L220.68 825.99 L222.67 772.38 L224.67 853.3 L226.66 823.41 L228.65 860 L230.64 812.58 L232.63 790.42 L234.62 810.01" fill="none" stroke="#32409c" stroke-width="1.25" stroke-linejoin="round"/>
<g fill="none" stroke="#32409c" stroke-width="1.05"><circle cx="27.49" cy="844.54" r="2.0"/><circle cx="29.48" cy="873.92" r="2.0"/><circle cx="31.48" cy="879.59" r="2.0"/><circle cx="33.47" cy="855.88" r="2.0"/><circle cx="35.46" cy="810.01" r="2.0"/><circle cx="37.45" cy="840.93" r="2.0"/><circle cx="39.44" cy="853.82" r="2.0"/><circle cx="41.43" cy="857.94" r="2.0"/><circle cx="43.42" cy="827.02" r="2.0"/><circle cx="45.42" cy="781.14" r="2.0"/><circle cx="47.41" cy="865.16" r="2.0"/><circle cx="49.4" cy="897.11" r="2.0"/><circle cx="51.39" cy="877.01" r="2.0"/><circle cx="53.38" cy="846.6" r="2.0"/><circle cx="55.38" cy="825.99" r="2.0"/><circle cx="57.37" cy="830.62" r="2.0"/><circle cx="59.36" cy="829.08" r="2.0"/><circle cx="61.35" cy="761.56" r="2.0"/><circle cx="63.34" cy="766.2" r="2.0"/><circle cx="65.33" cy="829.59" r="2.0"/><circle cx="67.32" cy="847.63" r="2.0"/><circle cx="69.32" cy="794.03" r="2.0"/><circle cx="71.31" cy="824.95" r="2.0"/><circle cx="73.3" cy="832.69" r="2.0"/><circle cx="75.29" cy="797.64" r="2.0"/><circle cx="77.28" cy="847.12" r="2.0"/><circle cx="79.28" cy="825.47" r="2.0"/><circle cx="81.27" cy="875.98" r="2.0"/><circle cx="83.26" cy="839.9" r="2.0"/><circle cx="85.25" cy="830.62" r="2.0"/><circle cx="87.24" cy="766.2" r="2.0"/><circle cx="89.23" cy="857.94" r="2.0"/><circle cx="91.23" cy="780.63" r="2.0"/><circle cx="93.22" cy="896.08" r="2.0"/><circle cx="95.21" cy="771.35" r="2.0"/><circle cx="97.2" cy="881.65" r="2.0"/><circle cx="99.19" cy="809.49" r="2.0"/><circle cx="101.18" cy="785.78" r="2.0"/><circle cx="103.17" cy="768.77" r="2.0"/><circle cx="105.17" cy="829.59" r="2.0"/><circle cx="107.16" cy="879.07" r="2.0"/><circle cx="109.15" cy="896.08" r="2.0"/><circle cx="111.14" cy="783.2" r="2.0"/><circle cx="113.13" cy="847.63" r="2.0"/><circle cx="115.12" cy="848.15" r="2.0"/><circle cx="117.12" cy="790.42" r="2.0"/><circle cx="119.11" cy="766.71" r="2.0"/><circle cx="121.1" cy="755.89" r="2.0"/><circle cx="123.09" cy="829.08" r="2.0"/><circle cx="125.08" cy="782.17" r="2.0"/><circle cx="127.08" cy="841.96" r="2.0"/><circle cx="129.07" cy="802.79" r="2.0"/><circle cx="131.06" cy="829.59" r="2.0"/><circle cx="133.05" cy="890.93" r="2.0"/><circle cx="135.04" cy="752.79" r="2.0"/><circle cx="137.03" cy="779.08" r="2.0"/><circle cx="139.02" cy="755.37" r="2.0"/><circle cx="141.02" cy="809.49" r="2.0"/><circle cx="143.01" cy="800.73" r="2.0"/><circle cx="145" cy="767.74" r="2.0"/><circle cx="146.99" cy="827.02" r="2.0"/><circle cx="148.98" cy="810.52" r="2.0"/><circle cx="150.98" cy="831.65" r="2.0"/><circle cx="152.97" cy="829.59" r="2.0"/><circle cx="154.96" cy="780.11" r="2.0"/><circle cx="156.95" cy="904.85" r="2.0"/><circle cx="158.94" cy="790.42" r="2.0"/><circle cx="160.93" cy="774.44" r="2.0"/><circle cx="162.92" cy="840.93" r="2.0"/><circle cx="164.92" cy="830.62" r="2.0"/><circle cx="166.91" cy="764.13" r="2.0"/><circle cx="168.9" cy="870.83" r="2.0"/><circle cx="170.89" cy="786.81" r="2.0"/><circle cx="172.88" cy="832.69" r="2.0"/><circle cx="174.88" cy="766.2" r="2.0"/><circle cx="176.87" cy="808.46" r="2.0"/><circle cx="178.86" cy="864.13" r="2.0"/><circle cx="180.85" cy="851.76" r="2.0"/><circle cx="182.84" cy="810.01" r="2.0"/><circle cx="184.83" cy="896.6" r="2.0"/><circle cx="186.83" cy="856.91" r="2.0"/><circle cx="188.82" cy="818.77" r="2.0"/><circle cx="190.81" cy="757.43" r="2.0"/><circle cx="192.8" cy="783.2" r="2.0"/><circle cx="194.79" cy="761.04" r="2.0"/><circle cx="196.78" cy="844.54" r="2.0"/><circle cx="198.78" cy="842.99" r="2.0"/><circle cx="200.77" cy="797.12" r="2.0"/><circle cx="202.76" cy="830.62" r="2.0"/><circle cx="204.75" cy="816.71" r="2.0"/><circle cx="206.74" cy="778.05" r="2.0"/><circle cx="208.73" cy="755.89" r="2.0"/><circle cx="210.72" cy="867.22" r="2.0"/><circle cx="212.72" cy="882.17" r="2.0"/><circle cx="214.71" cy="884.74" r="2.0"/><circle cx="216.7" cy="885.77" r="2.0"/><circle cx="218.69" cy="879.59" r="2.0"/><circle cx="220.68" cy="825.99" r="2.0"/><circle cx="222.67" cy="772.38" r="2.0"/><circle cx="224.67" cy="853.3" r="2.0"/><circle cx="226.66" cy="823.41" r="2.0"/><circle cx="228.65" cy="860" r="2.0"/><circle cx="230.64" cy="812.58" r="2.0"/><circle cx="232.63" cy="790.42" r="2.0"/><circle cx="234.62" cy="810.01" r="2.0"/></g>
<rect x="25.5" y="729.6" width="239" height="180.4" fill="none" stroke="#a6a6a6" stroke-width="1"/>
<path d="M25.5 910v-2M25.5 729.6v2M65.33 910v-2M65.33 729.6v2M105.17 910v-2M105.17 729.6v2M145 910v-2M145 729.6v2M184.83 910v-2M184.83 729.6v2M224.67 910v-2M224.67 729.6v2M264.5 910v-2M264.5 729.6v2M25.5 910h2M264.5 910h-2M25.5 884.23h2M264.5 884.23h-2M25.5 858.46h2M264.5 858.46h-2M25.5 832.69h2M264.5 832.69h-2M25.5 806.91h2M264.5 806.91h-2M25.5 781.14h2M264.5 781.14h-2M25.5 755.37h2M264.5 755.37h-2M25.5 729.6h2M264.5 729.6h-2" stroke="#a6a6a6" stroke-width="0.8" fill="none"/>
<text x="25.5" y="921.2" text-anchor="middle" font-size="7.2" fill="#1c1c1c" stroke="#1c1c1c" stroke-width="0.1">0</text>
<text x="65.33" y="921.2" text-anchor="middle" font-size="7.2" fill="#1c1c1c" stroke="#1c1c1c" stroke-width="0.1">20</text>
<text x="105.17" y="921.2" text-anchor="middle" font-size="7.2" fill="#1c1c1c" stroke="#1c1c1c" stroke-width="0.1">40</text>
<text x="145" y="921.2" text-anchor="middle" font-size="7.2" fill="#1c1c1c" stroke="#1c1c1c" stroke-width="0.1">60</text>
<text x="184.83" y="921.2" text-anchor="middle" font-size="7.2" fill="#1c1c1c" stroke="#1c1c1c" stroke-width="0.1">80</text>
<text x="224.67" y="921.2" text-anchor="middle" font-size="7.2" fill="#1c1c1c" stroke="#1c1c1c" stroke-width="0.1">100</text>
<text x="264.5" y="921.2" text-anchor="middle" font-size="7.2" fill="#1c1c1c" stroke="#1c1c1c" stroke-width="0.1">120</text>
<text x="22.4" y="913" text-anchor="end" font-size="7.2" fill="#1c1c1c" stroke="#1c1c1c" stroke-width="0.1">1.5</text>
<text x="22.4" y="887.23" text-anchor="end" font-size="7.2" fill="#1c1c1c" stroke="#1c1c1c" stroke-width="0.1">2</text>
<text x="22.4" y="861.46" text-anchor="end" font-size="7.2" fill="#1c1c1c" stroke="#1c1c1c" stroke-width="0.1">2.5</text>
<text x="22.4" y="835.69" text-anchor="end" font-size="7.2" fill="#1c1c1c" stroke="#1c1c1c" stroke-width="0.1">3</text>
<text x="22.4" y="809.91" text-anchor="end" font-size="7.2" fill="#1c1c1c" stroke="#1c1c1c" stroke-width="0.1">3.5</text>
<text x="22.4" y="784.14" text-anchor="end" font-size="7.2" fill="#1c1c1c" stroke="#1c1c1c" stroke-width="0.1">4</text>
<text x="22.4" y="758.37" text-anchor="end" font-size="7.2" fill="#1c1c1c" stroke="#1c1c1c" stroke-width="0.1">4.5</text>
<text x="22.4" y="732.6" text-anchor="end" font-size="7.2" fill="#1c1c1c" stroke="#1c1c1c" stroke-width="0.1">5</text>
<text x="115.1" y="931.9" font-size="7" fill="#1c1c1c" stroke="#1c1c1c" stroke-width="0.14" textLength="58" lengthAdjust="spacingAndGlyphs">Prediction sample</text>
<text transform="translate(10.6 843.9) rotate(-90)" x="0" y="0" font-size="7" fill="#1c1c1c" stroke="#1c1c1c" stroke-width="0.14" textLength="47.8" lengthAdjust="spacingAndGlyphs">Forecast result</text>
<text x="67.7" y="714.8" font-size="6.9" fill="#2a2a2a" stroke="#2a2a2a" stroke-width="0.06" textLength="153.4" lengthAdjust="spacingAndGlyphs">Comparison of training set prediction structure</text>
<text x="34.8" y="725.7" font-size="8.64" fill="#111" stroke="#111" stroke-width="0.16" textLength="220.4" lengthAdjust="spacingAndGlyphs">(R<tspan font-size="5.56" dy="-3.67">2</tspan><tspan dy="3.67"> =0.9383 RMSE= 0.20858 MSE= 0.043504 RPD= 4.0255)</tspan></text>
<rect x="211.1" y="735.7" width="48.3" height="19.3" fill="#fff" stroke="#a6a6a6" stroke-width="0.8"/>
<path d="M212.9 740.8H235.25" stroke="#dc3a3e" stroke-width="1.5"/><circle cx="223.66" cy="740.8" r="2.3" fill="none" stroke="#dc3a3e" stroke-width="1.2"/>
<path d="M212.9 749.79H235.25" stroke="#32409c" stroke-width="1.5"/><circle cx="223.66" cy="749.79" r="2.3" fill="none" stroke="#32409c" stroke-width="1.2"/>
<text x="235.65" y="742.2" font-size="4.4" fill="#111" stroke="#111" stroke-width="0.12" lengthAdjust="spacingAndGlyphs" textLength="22.15">Actual value</text>
<text x="235.65" y="749.29" font-size="4.4" fill="#111" stroke="#111" stroke-width="0.12" lengthAdjust="spacingAndGlyphs" textLength="18.16">Prediction</text>
<text x="235.65" y="752.99" font-size="4.4" fill="#111" stroke="#111" stroke-width="0.12" lengthAdjust="spacingAndGlyphs" textLength="9.75">value</text></g>
<g><line x1="302.6" y1="887.69" x2="541.5" y2="887.69" stroke="#ededed" stroke-width="1"/>
<line x1="302.6" y1="865.07" x2="541.5" y2="865.07" stroke="#ededed" stroke-width="1"/>
<line x1="302.6" y1="842.46" x2="541.5" y2="842.46" stroke="#ededed" stroke-width="1"/>
<line x1="302.6" y1="819.85" x2="541.5" y2="819.85" stroke="#ededed" stroke-width="1"/>
<line x1="302.6" y1="797.24" x2="541.5" y2="797.24" stroke="#ededed" stroke-width="1"/>
<line x1="302.6" y1="774.62" x2="541.5" y2="774.62" stroke="#ededed" stroke-width="1"/>
<line x1="302.6" y1="752.01" x2="541.5" y2="752.01" stroke="#ededed" stroke-width="1"/>
<line x1="382.23" y1="729.4" x2="382.23" y2="910.3" stroke="#ededed" stroke-width="1"/>
<line x1="461.87" y1="729.4" x2="461.87" y2="910.3" stroke="#ededed" stroke-width="1"/>
<path d="M318.53 786.38 L334.45 869.6 L350.38 751.11 L366.31 768.75 L382.23 820.3 L398.16 762.87 L414.09 822.56 L430.01 872.31 L445.94 766.48 L461.87 820.3 L477.79 747.94 L493.72 823.02 L509.65 818.49 L525.57 810.35 L541.5 777.34" fill="none" stroke="#dc3a3e" stroke-width="1.25" stroke-linejoin="round"/>
<g fill="none" stroke="#dc3a3e" stroke-width="1.05"><circle cx="318.53" cy="786.38" r="2.15"/><circle cx="334.45" cy="869.6" r="2.15"/><circle cx="350.38" cy="751.11" r="2.15"/><circle cx="366.31" cy="768.75" r="2.15"/><circle cx="382.23" cy="820.3" r="2.15"/><circle cx="398.16" cy="762.87" r="2.15"/><circle cx="414.09" cy="822.56" r="2.15"/><circle cx="430.01" cy="872.31" r="2.15"/><circle cx="445.94" cy="766.48" r="2.15"/><circle cx="461.87" cy="820.3" r="2.15"/><circle cx="477.79" cy="747.94" r="2.15"/><circle cx="493.72" cy="823.02" r="2.15"/><circle cx="509.65" cy="818.49" r="2.15"/><circle cx="525.57" cy="810.35" r="2.15"/><circle cx="541.5" cy="777.34" r="2.15"/></g>
<path d="M318.53 818.95 L334.45 904.87 L350.38 752.46 L366.31 766.94 L382.23 817.59 L398.16 748.85 L414.09 822.56 L430.01 866.88 L445.94 776.43 L461.87 818.04 L477.79 753.37 L493.72 823.02 L509.65 816.23 L525.57 818.95 L541.5 777.34" fill="none" stroke="#32409c" stroke-width="1.25" stroke-linejoin="round"/>
<g fill="none" stroke="#32409c" stroke-width="1.05"><circle cx="318.53" cy="818.95" r="2.15"/><circle cx="334.45" cy="904.87" r="2.15"/><circle cx="350.38" cy="752.46" r="2.15"/><circle cx="366.31" cy="766.94" r="2.15"/><circle cx="382.23" cy="817.59" r="2.15"/><circle cx="398.16" cy="748.85" r="2.15"/><circle cx="414.09" cy="822.56" r="2.15"/><circle cx="430.01" cy="866.88" r="2.15"/><circle cx="445.94" cy="776.43" r="2.15"/><circle cx="461.87" cy="818.04" r="2.15"/><circle cx="477.79" cy="753.37" r="2.15"/><circle cx="493.72" cy="823.02" r="2.15"/><circle cx="509.65" cy="816.23" r="2.15"/><circle cx="525.57" cy="818.95" r="2.15"/><circle cx="541.5" cy="777.34" r="2.15"/></g>
<rect x="302.6" y="729.4" width="238.9" height="180.9" fill="none" stroke="#a6a6a6" stroke-width="1"/>
<path d="M302.6 910.3v-2M302.6 729.4v2M382.23 910.3v-2M382.23 729.4v2M461.87 910.3v-2M461.87 729.4v2M541.5 910.3v-2M541.5 729.4v2M302.6 910.3h2M541.5 910.3h-2M302.6 887.69h2M541.5 887.69h-2M302.6 865.07h2M541.5 865.07h-2M302.6 842.46h2M541.5 842.46h-2M302.6 819.85h2M541.5 819.85h-2M302.6 797.24h2M541.5 797.24h-2M302.6 774.62h2M541.5 774.62h-2M302.6 752.01h2M541.5 752.01h-2M302.6 729.4h2M541.5 729.4h-2" stroke="#a6a6a6" stroke-width="0.8" fill="none"/>
<text x="302.6" y="921.2" text-anchor="middle" font-size="7.2" fill="#1c1c1c" stroke="#1c1c1c" stroke-width="0.1">0</text>
<text x="382.23" y="921.2" text-anchor="middle" font-size="7.2" fill="#1c1c1c" stroke="#1c1c1c" stroke-width="0.1">5</text>
<text x="461.87" y="921.2" text-anchor="middle" font-size="7.2" fill="#1c1c1c" stroke="#1c1c1c" stroke-width="0.1">10</text>
<text x="541.5" y="921.2" text-anchor="middle" font-size="7.2" fill="#1c1c1c" stroke="#1c1c1c" stroke-width="0.1">15</text>
<text x="300.1" y="913.3" text-anchor="end" font-size="7.2" fill="#1c1c1c" stroke="#1c1c1c" stroke-width="0.1">1</text>
<text x="300.1" y="890.69" text-anchor="end" font-size="7.2" fill="#1c1c1c" stroke="#1c1c1c" stroke-width="0.1">1.5</text>
<text x="300.1" y="868.07" text-anchor="end" font-size="7.2" fill="#1c1c1c" stroke="#1c1c1c" stroke-width="0.1">2</text>
<text x="300.1" y="845.46" text-anchor="end" font-size="7.2" fill="#1c1c1c" stroke="#1c1c1c" stroke-width="0.1">2.5</text>
<text x="300.1" y="822.85" text-anchor="end" font-size="7.2" fill="#1c1c1c" stroke="#1c1c1c" stroke-width="0.1">3</text>
<text x="300.1" y="800.24" text-anchor="end" font-size="7.2" fill="#1c1c1c" stroke="#1c1c1c" stroke-width="0.1">3.5</text>
<text x="300.1" y="777.62" text-anchor="end" font-size="7.2" fill="#1c1c1c" stroke="#1c1c1c" stroke-width="0.1">4</text>
<text x="300.1" y="755.01" text-anchor="end" font-size="7.2" fill="#1c1c1c" stroke="#1c1c1c" stroke-width="0.1">4.5</text>
<text x="300.1" y="732.4" text-anchor="end" font-size="7.2" fill="#1c1c1c" stroke="#1c1c1c" stroke-width="0.1">5</text>
<text x="389.6" y="931.9" font-size="7" fill="#1c1c1c" stroke="#1c1c1c" stroke-width="0.14" textLength="58.2" lengthAdjust="spacingAndGlyphs">Prediction sample</text>
<text transform="translate(286.4 843.9) rotate(-90)" x="0" y="0" font-size="7" fill="#1c1c1c" stroke="#1c1c1c" stroke-width="0.14" textLength="47.8" lengthAdjust="spacingAndGlyphs">Forecast result</text>
<text x="351.8" y="714.8" font-size="6.9" fill="#2a2a2a" stroke="#2a2a2a" stroke-width="0.06" textLength="131.8" lengthAdjust="spacingAndGlyphs">Comparison of test set prediction results</text>
<text x="310.2" y="725.5" font-size="8.68" fill="#111" stroke="#111" stroke-width="0.16" textLength="221.6" lengthAdjust="spacingAndGlyphs">(R<tspan font-size="5.59" dy="-3.69">2</tspan><tspan dy="3.69"> =0.91424 RMSE= 0.29618 MSE= 0.087721 RPD= 2.9918)</tspan></text>
<rect x="488" y="735.5" width="48.5" height="20" fill="#fff" stroke="#a6a6a6" stroke-width="0.8"/>
<path d="M489.8 740.6H512.25" stroke="#dc3a3e" stroke-width="1.5"/><circle cx="500.61" cy="740.6" r="2.3" fill="none" stroke="#dc3a3e" stroke-width="1.2"/>
<path d="M489.8 750.1H512.25" stroke="#32409c" stroke-width="1.5"/><circle cx="500.61" cy="750.1" r="2.3" fill="none" stroke="#32409c" stroke-width="1.2"/>
<text x="512.65" y="742" font-size="4.4" fill="#111" stroke="#111" stroke-width="0.12" lengthAdjust="spacingAndGlyphs" textLength="22.25">Actual value</text>
<text x="512.65" y="749.6" font-size="4.4" fill="#111" stroke="#111" stroke-width="0.12" lengthAdjust="spacingAndGlyphs" textLength="18.24">Prediction</text>
<text x="512.65" y="753.3" font-size="4.4" fill="#111" stroke="#111" stroke-width="0.12" lengthAdjust="spacingAndGlyphs" textLength="9.79">value</text></g>
<ellipse cx="545.7" cy="4.6" rx="1.4" ry="0.9" fill="#bbb"/>
<path d="M7.5 229.7V239" stroke="#8a8a8a" stroke-width="0.9"/>
</svg>
</body></html>
